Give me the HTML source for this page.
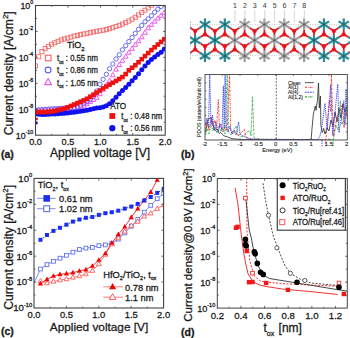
<!DOCTYPE html><html><head><meta charset="utf-8"><style>html,body{margin:0;padding:0;background:#fff;overflow:hidden;width:350px;height:338px}svg{display:block;font-family:"Liberation Sans",sans-serif}text{stroke:#1a1a1a;stroke-width:0.28px}</style></head><body>
<svg width="350" height="338" viewBox="0 0 350 338" font-family="Liberation Sans, sans-serif">
<rect width="350" height="338" fill="#fff"/>
<defs><clipPath id="ca"><rect x="35.5" y="5.5" width="129.7" height="129.7"/></clipPath>
<clipPath id="cc"><rect x="34" y="178.4" width="129.6" height="129.6"/></clipPath>
<clipPath id="cd"><rect x="217.3" y="178.5" width="130.0" height="129.60000000000002"/></clipPath>
<clipPath id="cb"><rect x="205" y="74.5" width="142.3" height="65.5"/></clipPath>
<clipPath id="cs"><rect x="190" y="14" width="160" height="48"/></clipPath></defs>
<g clip-path="url(#ca)">
<rect x="33.45" y="63.95" width="4.1" height="4.1" fill="none" stroke="#f46666" stroke-width="0.85"/>
<rect x="36.67" y="54.7" width="4.1" height="4.1" fill="none" stroke="#f46666" stroke-width="0.85"/>
<rect x="39.89" y="49.55" width="4.1" height="4.1" fill="none" stroke="#f46666" stroke-width="0.85"/>
<rect x="43.11" y="46.59" width="4.1" height="4.1" fill="none" stroke="#f46666" stroke-width="0.85"/>
<rect x="46.33" y="44.38" width="4.1" height="4.1" fill="none" stroke="#f46666" stroke-width="0.85"/>
<rect x="49.55" y="42.29" width="4.1" height="4.1" fill="none" stroke="#f46666" stroke-width="0.85"/>
<rect x="52.77" y="40.75" width="4.1" height="4.1" fill="none" stroke="#f46666" stroke-width="0.85"/>
<rect x="55.99" y="39.29" width="4.1" height="4.1" fill="none" stroke="#f46666" stroke-width="0.85"/>
<rect x="59.21" y="37.88" width="4.1" height="4.1" fill="none" stroke="#f46666" stroke-width="0.85"/>
<rect x="62.43" y="36.88" width="4.1" height="4.1" fill="none" stroke="#f46666" stroke-width="0.85"/>
<rect x="65.65" y="36.03" width="4.1" height="4.1" fill="none" stroke="#f46666" stroke-width="0.85"/>
<rect x="68.87" y="35" width="4.1" height="4.1" fill="none" stroke="#f46666" stroke-width="0.85"/>
<rect x="72.09" y="34.05" width="4.1" height="4.1" fill="none" stroke="#f46666" stroke-width="0.85"/>
<rect x="75.31" y="33.36" width="4.1" height="4.1" fill="none" stroke="#f46666" stroke-width="0.85"/>
<rect x="78.53" y="32.64" width="4.1" height="4.1" fill="none" stroke="#f46666" stroke-width="0.85"/>
<rect x="81.75" y="31.93" width="4.1" height="4.1" fill="none" stroke="#f46666" stroke-width="0.85"/>
<rect x="84.97" y="31.26" width="4.1" height="4.1" fill="none" stroke="#f46666" stroke-width="0.85"/>
<rect x="88.19" y="30.59" width="4.1" height="4.1" fill="none" stroke="#f46666" stroke-width="0.85"/>
<rect x="91.41" y="29.92" width="4.1" height="4.1" fill="none" stroke="#f46666" stroke-width="0.85"/>
<rect x="94.63" y="29.26" width="4.1" height="4.1" fill="none" stroke="#f46666" stroke-width="0.85"/>
<rect x="97.85" y="28.68" width="4.1" height="4.1" fill="none" stroke="#f46666" stroke-width="0.85"/>
<rect x="101.07" y="28.18" width="4.1" height="4.1" fill="none" stroke="#f46666" stroke-width="0.85"/>
<rect x="104.29" y="27.59" width="4.1" height="4.1" fill="none" stroke="#f46666" stroke-width="0.85"/>
<rect x="107.51" y="26.62" width="4.1" height="4.1" fill="none" stroke="#f46666" stroke-width="0.85"/>
<rect x="110.73" y="25.64" width="4.1" height="4.1" fill="none" stroke="#f46666" stroke-width="0.85"/>
<rect x="113.95" y="24.49" width="4.1" height="4.1" fill="none" stroke="#f46666" stroke-width="0.85"/>
<rect x="117.17" y="23.33" width="4.1" height="4.1" fill="none" stroke="#f46666" stroke-width="0.85"/>
<rect x="120.39" y="22" width="4.1" height="4.1" fill="none" stroke="#f46666" stroke-width="0.85"/>
<rect x="123.61" y="20.59" width="4.1" height="4.1" fill="none" stroke="#f46666" stroke-width="0.85"/>
<rect x="126.83" y="19" width="4.1" height="4.1" fill="none" stroke="#f46666" stroke-width="0.85"/>
<rect x="130.05" y="17.17" width="4.1" height="4.1" fill="none" stroke="#f46666" stroke-width="0.85"/>
<rect x="133.27" y="15.25" width="4.1" height="4.1" fill="none" stroke="#f46666" stroke-width="0.85"/>
<rect x="136.49" y="12.87" width="4.1" height="4.1" fill="none" stroke="#f46666" stroke-width="0.85"/>
<rect x="139.71" y="10.48" width="4.1" height="4.1" fill="none" stroke="#f46666" stroke-width="0.85"/>
<rect x="142.93" y="8.16" width="4.1" height="4.1" fill="none" stroke="#f46666" stroke-width="0.85"/>
<rect x="146.15" y="5.84" width="4.1" height="4.1" fill="none" stroke="#f46666" stroke-width="0.85"/>
<rect x="149.37" y="3.09" width="4.1" height="4.1" fill="none" stroke="#f46666" stroke-width="0.85"/>
<rect x="152.59" y="0.27" width="4.1" height="4.1" fill="none" stroke="#f46666" stroke-width="0.85"/>
<rect x="155.81" y="-0.05" width="4.1" height="4.1" fill="none" stroke="#f46666" stroke-width="0.85"/>
<rect x="159.03" y="-0.05" width="4.1" height="4.1" fill="none" stroke="#f46666" stroke-width="0.85"/>
<rect x="162.25" y="-0.05" width="4.1" height="4.1" fill="none" stroke="#f46666" stroke-width="0.85"/>
<polygon points="35.5,107.41 33.1,111.73 37.9,111.73" fill="none" stroke="#f05cf0" stroke-width="1.0"/>
<polygon points="38.72,107.39 36.32,111.71 41.12,111.71" fill="none" stroke="#f05cf0" stroke-width="1.0"/>
<polygon points="41.94,107.29 39.54,111.61 44.34,111.61" fill="none" stroke="#f05cf0" stroke-width="1.0"/>
<polygon points="45.16,107.19 42.76,111.51 47.56,111.51" fill="none" stroke="#f05cf0" stroke-width="1.0"/>
<polygon points="48.38,107.1 45.98,111.42 50.78,111.42" fill="none" stroke="#f05cf0" stroke-width="1.0"/>
<polygon points="51.6,107 49.2,111.32 54,111.32" fill="none" stroke="#f05cf0" stroke-width="1.0"/>
<polygon points="54.82,106.9 52.42,111.22 57.22,111.22" fill="none" stroke="#f05cf0" stroke-width="1.0"/>
<polygon points="58.04,106.75 55.64,111.07 60.44,111.07" fill="none" stroke="#f05cf0" stroke-width="1.0"/>
<polygon points="61.26,106.59 58.86,110.91 63.66,110.91" fill="none" stroke="#f05cf0" stroke-width="1.0"/>
<polygon points="64.48,106.43 62.08,110.75 66.88,110.75" fill="none" stroke="#f05cf0" stroke-width="1.0"/>
<polygon points="67.7,106.1 65.3,110.42 70.1,110.42" fill="none" stroke="#f05cf0" stroke-width="1.0"/>
<polygon points="70.92,105.72 68.52,110.04 73.32,110.04" fill="none" stroke="#f05cf0" stroke-width="1.0"/>
<polygon points="74.14,105.35 71.74,109.67 76.54,109.67" fill="none" stroke="#f05cf0" stroke-width="1.0"/>
<polygon points="77.36,104.77 74.96,109.09 79.76,109.09" fill="none" stroke="#f05cf0" stroke-width="1.0"/>
<polygon points="80.58,104.05 78.18,108.37 82.98,108.37" fill="none" stroke="#f05cf0" stroke-width="1.0"/>
<polygon points="83.8,102.96 81.4,107.28 86.2,107.28" fill="none" stroke="#f05cf0" stroke-width="1.0"/>
<polygon points="87.02,101.34 84.62,105.66 89.42,105.66" fill="none" stroke="#f05cf0" stroke-width="1.0"/>
<polygon points="90.24,99.13 87.84,103.45 92.64,103.45" fill="none" stroke="#f05cf0" stroke-width="1.0"/>
<polygon points="93.46,97.1 91.06,101.42 95.86,101.42" fill="none" stroke="#f05cf0" stroke-width="1.0"/>
<polygon points="96.68,95.01 94.28,99.33 99.08,99.33" fill="none" stroke="#f05cf0" stroke-width="1.0"/>
<polygon points="99.9,91.41 97.5,95.73 102.3,95.73" fill="none" stroke="#f05cf0" stroke-width="1.0"/>
<polygon points="103.12,86.93 100.72,91.25 105.52,91.25" fill="none" stroke="#f05cf0" stroke-width="1.0"/>
<polygon points="106.34,82.55 103.94,86.87 108.74,86.87" fill="none" stroke="#f05cf0" stroke-width="1.0"/>
<polygon points="109.56,77.93 107.16,82.25 111.96,82.25" fill="none" stroke="#f05cf0" stroke-width="1.0"/>
<polygon points="112.78,72.39 110.38,76.71 115.18,76.71" fill="none" stroke="#f05cf0" stroke-width="1.0"/>
<polygon points="116,66.85 113.6,71.17 118.4,71.17" fill="none" stroke="#f05cf0" stroke-width="1.0"/>
<polygon points="119.22,62.24 116.82,66.56 121.62,66.56" fill="none" stroke="#f05cf0" stroke-width="1.0"/>
<polygon points="122.44,58.02 120.04,62.34 124.84,62.34" fill="none" stroke="#f05cf0" stroke-width="1.0"/>
<polygon points="125.66,53.86 123.26,58.18 128.06,58.18" fill="none" stroke="#f05cf0" stroke-width="1.0"/>
<polygon points="128.88,49.84 126.48,54.16 131.28,54.16" fill="none" stroke="#f05cf0" stroke-width="1.0"/>
<polygon points="132.1,45.99 129.7,50.31 134.5,50.31" fill="none" stroke="#f05cf0" stroke-width="1.0"/>
<polygon points="135.32,42 132.92,46.32 137.72,46.32" fill="none" stroke="#f05cf0" stroke-width="1.0"/>
<polygon points="138.54,38.41 136.14,42.73 140.94,42.73" fill="none" stroke="#f05cf0" stroke-width="1.0"/>
<polygon points="141.76,34.49 139.36,38.81 144.16,38.81" fill="none" stroke="#f05cf0" stroke-width="1.0"/>
<polygon points="144.98,29.96 142.58,34.28 147.38,34.28" fill="none" stroke="#f05cf0" stroke-width="1.0"/>
<polygon points="148.2,25.4 145.8,29.72 150.6,29.72" fill="none" stroke="#f05cf0" stroke-width="1.0"/>
<polygon points="151.42,22.09 149.02,26.41 153.82,26.41" fill="none" stroke="#f05cf0" stroke-width="1.0"/>
<polygon points="154.64,18.87 152.24,23.19 157.04,23.19" fill="none" stroke="#f05cf0" stroke-width="1.0"/>
<polygon points="157.86,15.75 155.46,20.07 160.26,20.07" fill="none" stroke="#f05cf0" stroke-width="1.0"/>
<polygon points="161.08,12.94 158.68,17.26 163.48,17.26" fill="none" stroke="#f05cf0" stroke-width="1.0"/>
<polygon points="164.3,10.05 161.9,14.37 166.7,14.37" fill="none" stroke="#f05cf0" stroke-width="1.0"/>
<circle cx="35.5" cy="110.1" r="2.15" fill="none" stroke="#6262f0" stroke-width="0.95"/>
<circle cx="38.72" cy="110.02" r="2.15" fill="none" stroke="#6262f0" stroke-width="0.95"/>
<circle cx="41.94" cy="109.61" r="2.15" fill="none" stroke="#6262f0" stroke-width="0.95"/>
<circle cx="45.16" cy="109.26" r="2.15" fill="none" stroke="#6262f0" stroke-width="0.95"/>
<circle cx="48.38" cy="109.07" r="2.15" fill="none" stroke="#6262f0" stroke-width="0.95"/>
<circle cx="51.6" cy="108.88" r="2.15" fill="none" stroke="#6262f0" stroke-width="0.95"/>
<circle cx="54.82" cy="108.69" r="2.15" fill="none" stroke="#6262f0" stroke-width="0.95"/>
<circle cx="58.04" cy="108.47" r="2.15" fill="none" stroke="#6262f0" stroke-width="0.95"/>
<circle cx="61.26" cy="108.25" r="2.15" fill="none" stroke="#6262f0" stroke-width="0.95"/>
<circle cx="64.48" cy="108.04" r="2.15" fill="none" stroke="#6262f0" stroke-width="0.95"/>
<circle cx="67.7" cy="107.9" r="2.15" fill="none" stroke="#6262f0" stroke-width="0.95"/>
<circle cx="70.92" cy="107.79" r="2.15" fill="none" stroke="#6262f0" stroke-width="0.95"/>
<circle cx="74.14" cy="107.67" r="2.15" fill="none" stroke="#6262f0" stroke-width="0.95"/>
<circle cx="77.36" cy="106.9" r="2.15" fill="none" stroke="#6262f0" stroke-width="0.95"/>
<circle cx="80.58" cy="105.06" r="2.15" fill="none" stroke="#6262f0" stroke-width="0.95"/>
<circle cx="83.8" cy="103.46" r="2.15" fill="none" stroke="#6262f0" stroke-width="0.95"/>
<circle cx="87.02" cy="101.85" r="2.15" fill="none" stroke="#6262f0" stroke-width="0.95"/>
<circle cx="90.24" cy="99.71" r="2.15" fill="none" stroke="#6262f0" stroke-width="0.95"/>
<circle cx="93.46" cy="96.45" r="2.15" fill="none" stroke="#6262f0" stroke-width="0.95"/>
<circle cx="96.68" cy="91.09" r="2.15" fill="none" stroke="#6262f0" stroke-width="0.95"/>
<circle cx="99.9" cy="84.2" r="2.15" fill="none" stroke="#6262f0" stroke-width="0.95"/>
<circle cx="103.12" cy="79.37" r="2.15" fill="none" stroke="#6262f0" stroke-width="0.95"/>
<circle cx="106.34" cy="74.29" r="2.15" fill="none" stroke="#6262f0" stroke-width="0.95"/>
<circle cx="109.56" cy="68.81" r="2.15" fill="none" stroke="#6262f0" stroke-width="0.95"/>
<circle cx="112.78" cy="63.98" r="2.15" fill="none" stroke="#6262f0" stroke-width="0.95"/>
<circle cx="116" cy="59.01" r="2.15" fill="none" stroke="#6262f0" stroke-width="0.95"/>
<circle cx="119.22" cy="54.82" r="2.15" fill="none" stroke="#6262f0" stroke-width="0.95"/>
<circle cx="122.44" cy="49.82" r="2.15" fill="none" stroke="#6262f0" stroke-width="0.95"/>
<circle cx="125.66" cy="45.68" r="2.15" fill="none" stroke="#6262f0" stroke-width="0.95"/>
<circle cx="128.88" cy="41.54" r="2.15" fill="none" stroke="#6262f0" stroke-width="0.95"/>
<circle cx="132.1" cy="37.5" r="2.15" fill="none" stroke="#6262f0" stroke-width="0.95"/>
<circle cx="135.32" cy="33.38" r="2.15" fill="none" stroke="#6262f0" stroke-width="0.95"/>
<circle cx="138.54" cy="29.27" r="2.15" fill="none" stroke="#6262f0" stroke-width="0.95"/>
<circle cx="141.76" cy="25.44" r="2.15" fill="none" stroke="#6262f0" stroke-width="0.95"/>
<circle cx="144.98" cy="21.79" r="2.15" fill="none" stroke="#6262f0" stroke-width="0.95"/>
<circle cx="148.2" cy="18.88" r="2.15" fill="none" stroke="#6262f0" stroke-width="0.95"/>
<circle cx="151.42" cy="15.78" r="2.15" fill="none" stroke="#6262f0" stroke-width="0.95"/>
<circle cx="154.64" cy="12.17" r="2.15" fill="none" stroke="#6262f0" stroke-width="0.95"/>
<circle cx="157.86" cy="9.2" r="2.15" fill="none" stroke="#6262f0" stroke-width="0.95"/>
<circle cx="161.08" cy="6.47" r="2.15" fill="none" stroke="#6262f0" stroke-width="0.95"/>
<circle cx="164.3" cy="4.15" r="2.15" fill="none" stroke="#6262f0" stroke-width="0.95"/>
<circle cx="35.5" cy="114" r="2.5" fill="#1010ee" stroke="none" stroke-width="0"/>
<circle cx="38.72" cy="114.16" r="2.5" fill="#1010ee" stroke="none" stroke-width="0"/>
<circle cx="41.94" cy="114.47" r="2.5" fill="#1010ee" stroke="none" stroke-width="0"/>
<circle cx="45.16" cy="114.38" r="2.5" fill="#1010ee" stroke="none" stroke-width="0"/>
<circle cx="48.38" cy="114.25" r="2.5" fill="#1010ee" stroke="none" stroke-width="0"/>
<circle cx="51.6" cy="114.12" r="2.5" fill="#1010ee" stroke="none" stroke-width="0"/>
<circle cx="54.82" cy="113.99" r="2.5" fill="#1010ee" stroke="none" stroke-width="0"/>
<circle cx="58.04" cy="113.74" r="2.5" fill="#1010ee" stroke="none" stroke-width="0"/>
<circle cx="61.26" cy="113.49" r="2.5" fill="#1010ee" stroke="none" stroke-width="0"/>
<circle cx="64.48" cy="113.24" r="2.5" fill="#1010ee" stroke="none" stroke-width="0"/>
<circle cx="67.7" cy="112.89" r="2.5" fill="#1010ee" stroke="none" stroke-width="0"/>
<circle cx="70.92" cy="112.52" r="2.5" fill="#1010ee" stroke="none" stroke-width="0"/>
<circle cx="74.14" cy="112.15" r="2.5" fill="#1010ee" stroke="none" stroke-width="0"/>
<circle cx="77.36" cy="111.72" r="2.5" fill="#1010ee" stroke="none" stroke-width="0"/>
<circle cx="80.58" cy="111.25" r="2.5" fill="#1010ee" stroke="none" stroke-width="0"/>
<circle cx="83.8" cy="110.79" r="2.5" fill="#1010ee" stroke="none" stroke-width="0"/>
<circle cx="87.02" cy="110.2" r="2.5" fill="#1010ee" stroke="none" stroke-width="0"/>
<circle cx="90.24" cy="109.42" r="2.5" fill="#1010ee" stroke="none" stroke-width="0"/>
<circle cx="93.46" cy="108.64" r="2.5" fill="#1010ee" stroke="none" stroke-width="0"/>
<circle cx="96.68" cy="107.95" r="2.5" fill="#1010ee" stroke="none" stroke-width="0"/>
<circle cx="99.9" cy="107.68" r="2.5" fill="#1010ee" stroke="none" stroke-width="0"/>
<circle cx="103.12" cy="107.09" r="2.5" fill="#1010ee" stroke="none" stroke-width="0"/>
<circle cx="106.34" cy="105.68" r="2.5" fill="#1010ee" stroke="none" stroke-width="0"/>
<circle cx="109.56" cy="103.67" r="2.5" fill="#1010ee" stroke="none" stroke-width="0"/>
<circle cx="112.78" cy="100.86" r="2.5" fill="#1010ee" stroke="none" stroke-width="0"/>
<circle cx="116" cy="97.19" r="2.5" fill="#1010ee" stroke="none" stroke-width="0"/>
<circle cx="119.22" cy="93.77" r="2.5" fill="#1010ee" stroke="none" stroke-width="0"/>
<circle cx="122.44" cy="90.54" r="2.5" fill="#1010ee" stroke="none" stroke-width="0"/>
<circle cx="125.66" cy="87.47" r="2.5" fill="#1010ee" stroke="none" stroke-width="0"/>
<circle cx="128.88" cy="84.13" r="2.5" fill="#1010ee" stroke="none" stroke-width="0"/>
<circle cx="132.1" cy="80.87" r="2.5" fill="#1010ee" stroke="none" stroke-width="0"/>
<circle cx="135.32" cy="77.54" r="2.5" fill="#1010ee" stroke="none" stroke-width="0"/>
<circle cx="138.54" cy="73.72" r="2.5" fill="#1010ee" stroke="none" stroke-width="0"/>
<circle cx="141.76" cy="69.83" r="2.5" fill="#1010ee" stroke="none" stroke-width="0"/>
<circle cx="144.98" cy="66.08" r="2.5" fill="#1010ee" stroke="none" stroke-width="0"/>
<circle cx="148.2" cy="62.49" r="2.5" fill="#1010ee" stroke="none" stroke-width="0"/>
<circle cx="151.42" cy="59.6" r="2.5" fill="#1010ee" stroke="none" stroke-width="0"/>
<circle cx="154.64" cy="57.06" r="2.5" fill="#1010ee" stroke="none" stroke-width="0"/>
<circle cx="157.86" cy="54.41" r="2.5" fill="#1010ee" stroke="none" stroke-width="0"/>
<circle cx="161.08" cy="52.23" r="2.5" fill="#1010ee" stroke="none" stroke-width="0"/>
<circle cx="164.3" cy="49.03" r="2.5" fill="#1010ee" stroke="none" stroke-width="0"/>
<rect x="33.2" y="109.7" width="4.6" height="4.6" fill="#ee1111" stroke="none" stroke-width="0"/>
<rect x="36.42" y="109.7" width="4.6" height="4.6" fill="#ee1111" stroke="none" stroke-width="0"/>
<rect x="39.64" y="109.7" width="4.6" height="4.6" fill="#ee1111" stroke="none" stroke-width="0"/>
<rect x="42.86" y="109.7" width="4.6" height="4.6" fill="#ee1111" stroke="none" stroke-width="0"/>
<rect x="46.08" y="109.52" width="4.6" height="4.6" fill="#ee1111" stroke="none" stroke-width="0"/>
<rect x="49.3" y="109.1" width="4.6" height="4.6" fill="#ee1111" stroke="none" stroke-width="0"/>
<rect x="52.52" y="108.67" width="4.6" height="4.6" fill="#ee1111" stroke="none" stroke-width="0"/>
<rect x="55.74" y="107.89" width="4.6" height="4.6" fill="#ee1111" stroke="none" stroke-width="0"/>
<rect x="58.96" y="107.11" width="4.6" height="4.6" fill="#ee1111" stroke="none" stroke-width="0"/>
<rect x="62.18" y="106.33" width="4.6" height="4.6" fill="#ee1111" stroke="none" stroke-width="0"/>
<rect x="65.4" y="105.03" width="4.6" height="4.6" fill="#ee1111" stroke="none" stroke-width="0"/>
<rect x="68.62" y="103.64" width="4.6" height="4.6" fill="#ee1111" stroke="none" stroke-width="0"/>
<rect x="71.84" y="102.25" width="4.6" height="4.6" fill="#ee1111" stroke="none" stroke-width="0"/>
<rect x="75.06" y="100.85" width="4.6" height="4.6" fill="#ee1111" stroke="none" stroke-width="0"/>
<rect x="78.28" y="99.46" width="4.6" height="4.6" fill="#ee1111" stroke="none" stroke-width="0"/>
<rect x="81.5" y="98.07" width="4.6" height="4.6" fill="#ee1111" stroke="none" stroke-width="0"/>
<rect x="84.72" y="96.43" width="4.6" height="4.6" fill="#ee1111" stroke="none" stroke-width="0"/>
<rect x="87.94" y="94.4" width="4.6" height="4.6" fill="#ee1111" stroke="none" stroke-width="0"/>
<rect x="91.16" y="92.37" width="4.6" height="4.6" fill="#ee1111" stroke="none" stroke-width="0"/>
<rect x="94.38" y="90.31" width="4.6" height="4.6" fill="#ee1111" stroke="none" stroke-width="0"/>
<rect x="97.6" y="88.17" width="4.6" height="4.6" fill="#ee1111" stroke="none" stroke-width="0"/>
<rect x="100.82" y="86.11" width="4.6" height="4.6" fill="#ee1111" stroke="none" stroke-width="0"/>
<rect x="104.04" y="84.23" width="4.6" height="4.6" fill="#ee1111" stroke="none" stroke-width="0"/>
<rect x="107.26" y="82.35" width="4.6" height="4.6" fill="#ee1111" stroke="none" stroke-width="0"/>
<rect x="110.48" y="80.47" width="4.6" height="4.6" fill="#ee1111" stroke="none" stroke-width="0"/>
<rect x="113.7" y="78.59" width="4.6" height="4.6" fill="#ee1111" stroke="none" stroke-width="0"/>
<rect x="116.92" y="76.67" width="4.6" height="4.6" fill="#ee1111" stroke="none" stroke-width="0"/>
<rect x="120.14" y="74.74" width="4.6" height="4.6" fill="#ee1111" stroke="none" stroke-width="0"/>
<rect x="123.36" y="71.77" width="4.6" height="4.6" fill="#ee1111" stroke="none" stroke-width="0"/>
<rect x="126.58" y="68.04" width="4.6" height="4.6" fill="#ee1111" stroke="none" stroke-width="0"/>
<rect x="129.8" y="65.45" width="4.6" height="4.6" fill="#ee1111" stroke="none" stroke-width="0"/>
<rect x="133.02" y="62.9" width="4.6" height="4.6" fill="#ee1111" stroke="none" stroke-width="0"/>
<rect x="136.24" y="59.96" width="4.6" height="4.6" fill="#ee1111" stroke="none" stroke-width="0"/>
<rect x="139.46" y="56.87" width="4.6" height="4.6" fill="#ee1111" stroke="none" stroke-width="0"/>
<rect x="142.68" y="53.8" width="4.6" height="4.6" fill="#ee1111" stroke="none" stroke-width="0"/>
<rect x="145.9" y="50.76" width="4.6" height="4.6" fill="#ee1111" stroke="none" stroke-width="0"/>
<rect x="149.12" y="47.78" width="4.6" height="4.6" fill="#ee1111" stroke="none" stroke-width="0"/>
<rect x="152.34" y="45" width="4.6" height="4.6" fill="#ee1111" stroke="none" stroke-width="0"/>
<rect x="155.56" y="42.22" width="4.6" height="4.6" fill="#ee1111" stroke="none" stroke-width="0"/>
<rect x="158.78" y="39.57" width="4.6" height="4.6" fill="#ee1111" stroke="none" stroke-width="0"/>
<rect x="162" y="36.92" width="4.6" height="4.6" fill="#ee1111" stroke="none" stroke-width="0"/>
<rect x="35.25" y="117.75" width="2.5" height="2.5" fill="#ee1111" stroke="none" stroke-width="0"/>
<circle cx="36.5" cy="123" r="1.4" fill="#1010ee" stroke="none" stroke-width="0"/>
</g>
<rect x="35.5" y="5.5" width="129.7" height="129.7" fill="none" stroke="#444" stroke-width="1.1"/>
<path d="M51.71 135.2v-1.3M51.71 5.5v1.3" stroke="#444" stroke-width="0.8"/>
<path d="M67.92 135.2v-2.2M67.92 5.5v2.2" stroke="#444" stroke-width="0.8"/>
<path d="M84.14 135.2v-1.3M84.14 5.5v1.3" stroke="#444" stroke-width="0.8"/>
<path d="M100.35 135.2v-2.2M100.35 5.5v2.2" stroke="#444" stroke-width="0.8"/>
<path d="M116.56 135.2v-1.3M116.56 5.5v1.3" stroke="#444" stroke-width="0.8"/>
<path d="M132.77 135.2v-2.2M132.77 5.5v2.2" stroke="#444" stroke-width="0.8"/>
<path d="M148.99 135.2v-1.3M148.99 5.5v1.3" stroke="#444" stroke-width="0.8"/>
<path d="M35.5 18.47h1.5M165.2 18.47h-1.5" stroke="#444" stroke-width="0.8"/>
<path d="M35.5 31.44h2.2M165.2 31.44h-2.2" stroke="#444" stroke-width="0.8"/>
<path d="M35.5 44.41h1.5M165.2 44.41h-1.5" stroke="#444" stroke-width="0.8"/>
<path d="M35.5 57.38h2.2M165.2 57.38h-2.2" stroke="#444" stroke-width="0.8"/>
<path d="M35.5 70.35h1.5M165.2 70.35h-1.5" stroke="#444" stroke-width="0.8"/>
<path d="M35.5 83.32h2.2M165.2 83.32h-2.2" stroke="#444" stroke-width="0.8"/>
<path d="M35.5 96.29h1.5M165.2 96.29h-1.5" stroke="#444" stroke-width="0.8"/>
<path d="M35.5 109.26h2.2M165.2 109.26h-2.2" stroke="#444" stroke-width="0.8"/>
<path d="M35.5 122.23h1.5M165.2 122.23h-1.5" stroke="#444" stroke-width="0.8"/>
<text x="33.2" y="8.8" font-size="8.8" text-anchor="end" fill="#1a1a1a">10<tspan font-size="5.28" dy="-4.4">0</tspan></text>
<text x="33.2" y="34.74" font-size="8.8" text-anchor="end" fill="#1a1a1a">10<tspan font-size="5.28" dy="-4.4">-2</tspan></text>
<text x="33.2" y="60.68" font-size="8.8" text-anchor="end" fill="#1a1a1a">10<tspan font-size="5.28" dy="-4.4">-4</tspan></text>
<text x="33.2" y="86.62" font-size="8.8" text-anchor="end" fill="#1a1a1a">10<tspan font-size="5.28" dy="-4.4">-6</tspan></text>
<text x="33.2" y="112.56" font-size="8.8" text-anchor="end" fill="#1a1a1a">10<tspan font-size="5.28" dy="-4.4">-8</tspan></text>
<text x="33.2" y="138.5" font-size="8.8" text-anchor="end" fill="#1a1a1a">10<tspan font-size="5.28" dy="-4.4">-10</tspan></text>
<text x="35.5" y="145.3" font-size="9.1" text-anchor="middle" font-weight="normal" fill="#1a1a1a" >0.0</text>
<text x="67.92" y="145.3" font-size="9.1" text-anchor="middle" font-weight="normal" fill="#1a1a1a" >0.5</text>
<text x="100.35" y="145.3" font-size="9.1" text-anchor="middle" font-weight="normal" fill="#1a1a1a" >1.0</text>
<text x="132.77" y="145.3" font-size="9.1" text-anchor="middle" font-weight="normal" fill="#1a1a1a" >1.5</text>
<text x="165.2" y="145.3" font-size="9.1" text-anchor="middle" font-weight="normal" fill="#1a1a1a" >2.0</text>
<text x="100" y="156.8" font-size="12" text-anchor="middle" font-weight="normal" fill="#1a1a1a" >Applied voltage [V]</text>
<text transform="translate(12.6 73.3) rotate(-90)" font-size="12.1" text-anchor="middle" fill="#1a1a1a">Current density [A/cm<tspan font-size="8" dy="-5">2</tspan><tspan dy="5">]</tspan></text>
<text x="1" y="157.5" font-size="10.5" text-anchor="start" font-weight="bold" fill="#1a1a1a" >(a)</text>
<text x="67" y="48.3" font-size="9" text-anchor="start" font-weight="normal" fill="#1a1a1a" >TiO<tspan font-size="6" dy="2.5">2</tspan></text>
<rect x="45.4" y="55.2" width="5.6" height="5.6" fill="none" stroke="#f46666" stroke-width="1.15"/>
<circle cx="48.1" cy="70" r="2.9" fill="none" stroke="#6262f0" stroke-width="1.15"/>
<polygon points="48.1,78.53 44.7,84.65 51.5,84.65" fill="none" stroke="#f05cf0" stroke-width="1.15"/>
<text x="57" y="61.2" font-size="8.9" fill="#1a1a1a" textLength="41" lengthAdjust="spacingAndGlyphs">t<tspan font-size="5" dy="2.8">ox</tspan><tspan dy="-2.8"> : 0.55 nm</tspan></text>
<text x="57" y="73.3" font-size="8.9" fill="#1a1a1a" textLength="41" lengthAdjust="spacingAndGlyphs">t<tspan font-size="5" dy="2.8">ox</tspan><tspan dy="-2.8"> : 0.86 nm</tspan></text>
<text x="57" y="85.6" font-size="8.9" fill="#1a1a1a" textLength="41" lengthAdjust="spacingAndGlyphs">t<tspan font-size="5" dy="2.8">ox</tspan><tspan dy="-2.8"> : 1.05 nm</tspan></text>
<text x="110.2" y="109.3" font-size="9" text-anchor="start" font-weight="normal" fill="#1a1a1a" textLength="16" lengthAdjust="spacingAndGlyphs">ATO</text>
<rect x="109.4" y="113.1" width="5.8" height="5.8" fill="#ee1111" stroke="none" stroke-width="0"/>
<circle cx="112.3" cy="128.2" r="3.1" fill="#1010ee" stroke="none" stroke-width="0"/>
<text x="121.3" y="119" font-size="8.9" fill="#1a1a1a" textLength="41" lengthAdjust="spacingAndGlyphs">t<tspan font-size="5" dy="2.8">ox</tspan><tspan dy="-2.8"> : 0.48 nm</tspan></text>
<text x="121.3" y="131" font-size="8.9" fill="#1a1a1a" textLength="41" lengthAdjust="spacingAndGlyphs">t<tspan font-size="5" dy="2.8">ox</tspan><tspan dy="-2.8"> : 0.56 nm</tspan></text>
<g clip-path="url(#cc)">
<path d="M34 283 L40.48 269 L46.97 264.6 L53.45 261.3 L59.94 258.2 L66.43 255.3 L72.91 252.2 L79.4 249.5 L85.88 248.1 L92.37 247.4 L98.85 245.6 L105.34 244.9 L111.82 243.2 L118.31 239.1 L124.79 232.9 L131.28 226.2 L137.76 219.4 L144.25 212.2 L150.73 205.3 L157.22 198.7 L163.7 193.5" fill="none" stroke="#6070f0" stroke-width="0.8"/>
<path d="M40.48 281 L46.97 283 L53.45 281.4 L59.94 280 L66.43 279 L72.91 277.4 L79.4 276 L85.88 274 L92.37 270.6 L98.85 264 L105.34 254.5 L111.82 244.1 L118.31 238 L124.79 231.4 L131.28 225.6 L137.76 221.5 L144.25 216.3 L150.73 213.2 L157.22 208.6 L163.7 204.9" fill="none" stroke="#ff5a5a" stroke-width="0.8"/>
<path d="M40.48 283.6 L46.97 279.4 L53.45 276 L59.94 274.4 L66.43 273.6 L72.91 272.6 L79.4 271 L85.88 269.6 L92.37 266 L98.85 260 L105.34 253.5 L111.82 243 L118.31 234.3 L124.79 226.7 L131.28 217.3 L137.76 208.6 L144.25 200.4 L150.73 192.1 L157.22 180 L163.7 168" fill="none" stroke="#f00000" stroke-width="0.8"/>
<path d="M40.48 239.8 L46.97 235 L53.45 230.9 L59.94 227.8 L66.43 224.7 L72.91 221.6 L79.4 219.5 L85.88 217.8 L92.37 217 L98.85 214.9 L105.34 213.2 L111.82 212.2 L118.31 210.7 L124.79 208.6 L131.28 206.6 L137.76 203.9 L144.25 200.4 L150.73 197 L157.22 192.9 L163.7 188.8" fill="none" stroke="#1a2ef0" stroke-width="0.9" stroke-dasharray="1.5 1.5"/>
<rect x="38.59" y="267.1" width="3.8" height="3.8" fill="#fff" stroke="#6070f0" stroke-width="0.9"/>
<rect x="45.07" y="262.7" width="3.8" height="3.8" fill="#fff" stroke="#6070f0" stroke-width="0.9"/>
<rect x="51.55" y="259.4" width="3.8" height="3.8" fill="#fff" stroke="#6070f0" stroke-width="0.9"/>
<rect x="58.04" y="256.3" width="3.8" height="3.8" fill="#fff" stroke="#6070f0" stroke-width="0.9"/>
<rect x="64.53" y="253.4" width="3.8" height="3.8" fill="#fff" stroke="#6070f0" stroke-width="0.9"/>
<rect x="71.01" y="250.3" width="3.8" height="3.8" fill="#fff" stroke="#6070f0" stroke-width="0.9"/>
<rect x="77.5" y="247.6" width="3.8" height="3.8" fill="#fff" stroke="#6070f0" stroke-width="0.9"/>
<rect x="83.98" y="246.2" width="3.8" height="3.8" fill="#fff" stroke="#6070f0" stroke-width="0.9"/>
<rect x="90.47" y="245.5" width="3.8" height="3.8" fill="#fff" stroke="#6070f0" stroke-width="0.9"/>
<rect x="96.95" y="243.7" width="3.8" height="3.8" fill="#fff" stroke="#6070f0" stroke-width="0.9"/>
<rect x="103.44" y="243" width="3.8" height="3.8" fill="#fff" stroke="#6070f0" stroke-width="0.9"/>
<rect x="109.92" y="241.3" width="3.8" height="3.8" fill="#fff" stroke="#6070f0" stroke-width="0.9"/>
<rect x="116.41" y="237.2" width="3.8" height="3.8" fill="#fff" stroke="#6070f0" stroke-width="0.9"/>
<rect x="122.89" y="231" width="3.8" height="3.8" fill="#fff" stroke="#6070f0" stroke-width="0.9"/>
<rect x="129.38" y="224.3" width="3.8" height="3.8" fill="#fff" stroke="#6070f0" stroke-width="0.9"/>
<rect x="135.86" y="217.5" width="3.8" height="3.8" fill="#fff" stroke="#6070f0" stroke-width="0.9"/>
<rect x="142.34" y="210.3" width="3.8" height="3.8" fill="#fff" stroke="#6070f0" stroke-width="0.9"/>
<rect x="148.83" y="203.4" width="3.8" height="3.8" fill="#fff" stroke="#6070f0" stroke-width="0.9"/>
<rect x="155.31" y="196.8" width="3.8" height="3.8" fill="#fff" stroke="#6070f0" stroke-width="0.9"/>
<rect x="161.8" y="191.6" width="3.8" height="3.8" fill="#fff" stroke="#6070f0" stroke-width="0.9"/>
<polygon points="40.48,278.41 38.09,282.73 42.88,282.73" fill="#fff" stroke="#ff5a5a" stroke-width="0.9"/>
<polygon points="46.97,280.41 44.57,284.73 49.37,284.73" fill="#fff" stroke="#ff5a5a" stroke-width="0.9"/>
<polygon points="53.45,278.81 51.05,283.13 55.85,283.13" fill="#fff" stroke="#ff5a5a" stroke-width="0.9"/>
<polygon points="59.94,277.41 57.54,281.73 62.34,281.73" fill="#fff" stroke="#ff5a5a" stroke-width="0.9"/>
<polygon points="66.43,276.41 64.03,280.73 68.83,280.73" fill="#fff" stroke="#ff5a5a" stroke-width="0.9"/>
<polygon points="72.91,274.81 70.51,279.13 75.31,279.13" fill="#fff" stroke="#ff5a5a" stroke-width="0.9"/>
<polygon points="79.4,273.41 77,277.73 81.8,277.73" fill="#fff" stroke="#ff5a5a" stroke-width="0.9"/>
<polygon points="85.88,271.41 83.48,275.73 88.28,275.73" fill="#fff" stroke="#ff5a5a" stroke-width="0.9"/>
<polygon points="92.37,268.01 89.97,272.33 94.77,272.33" fill="#fff" stroke="#ff5a5a" stroke-width="0.9"/>
<polygon points="98.85,261.41 96.45,265.73 101.25,265.73" fill="#fff" stroke="#ff5a5a" stroke-width="0.9"/>
<polygon points="105.34,251.91 102.94,256.23 107.74,256.23" fill="#fff" stroke="#ff5a5a" stroke-width="0.9"/>
<polygon points="111.82,241.51 109.42,245.83 114.22,245.83" fill="#fff" stroke="#ff5a5a" stroke-width="0.9"/>
<polygon points="118.31,235.41 115.91,239.73 120.71,239.73" fill="#fff" stroke="#ff5a5a" stroke-width="0.9"/>
<polygon points="124.79,228.81 122.39,233.13 127.19,233.13" fill="#fff" stroke="#ff5a5a" stroke-width="0.9"/>
<polygon points="131.28,223.01 128.88,227.33 133.68,227.33" fill="#fff" stroke="#ff5a5a" stroke-width="0.9"/>
<polygon points="137.76,218.91 135.36,223.23 140.16,223.23" fill="#fff" stroke="#ff5a5a" stroke-width="0.9"/>
<polygon points="144.25,213.71 141.84,218.03 146.65,218.03" fill="#fff" stroke="#ff5a5a" stroke-width="0.9"/>
<polygon points="150.73,210.61 148.33,214.93 153.13,214.93" fill="#fff" stroke="#ff5a5a" stroke-width="0.9"/>
<polygon points="157.22,206.01 154.81,210.33 159.62,210.33" fill="#fff" stroke="#ff5a5a" stroke-width="0.9"/>
<polygon points="163.7,202.31 161.3,206.63 166.1,206.63" fill="#fff" stroke="#ff5a5a" stroke-width="0.9"/>
<polygon points="40.48,280.79 37.88,285.47 43.09,285.47" fill="#f00000" stroke="none" stroke-width="0"/>
<polygon points="46.97,276.59 44.37,281.27 49.57,281.27" fill="#f00000" stroke="none" stroke-width="0"/>
<polygon points="53.45,273.19 50.85,277.87 56.05,277.87" fill="#f00000" stroke="none" stroke-width="0"/>
<polygon points="59.94,271.59 57.34,276.27 62.54,276.27" fill="#f00000" stroke="none" stroke-width="0"/>
<polygon points="66.43,270.79 63.83,275.47 69.03,275.47" fill="#f00000" stroke="none" stroke-width="0"/>
<polygon points="72.91,269.79 70.31,274.47 75.51,274.47" fill="#f00000" stroke="none" stroke-width="0"/>
<polygon points="79.4,268.19 76.8,272.87 82,272.87" fill="#f00000" stroke="none" stroke-width="0"/>
<polygon points="85.88,266.79 83.28,271.47 88.48,271.47" fill="#f00000" stroke="none" stroke-width="0"/>
<polygon points="92.37,263.19 89.77,267.87 94.97,267.87" fill="#f00000" stroke="none" stroke-width="0"/>
<polygon points="98.85,257.19 96.25,261.87 101.45,261.87" fill="#f00000" stroke="none" stroke-width="0"/>
<polygon points="105.34,250.69 102.74,255.37 107.94,255.37" fill="#f00000" stroke="none" stroke-width="0"/>
<polygon points="111.82,240.19 109.22,244.87 114.42,244.87" fill="#f00000" stroke="none" stroke-width="0"/>
<polygon points="118.31,231.49 115.71,236.17 120.91,236.17" fill="#f00000" stroke="none" stroke-width="0"/>
<polygon points="124.79,223.89 122.19,228.57 127.39,228.57" fill="#f00000" stroke="none" stroke-width="0"/>
<polygon points="131.28,214.49 128.68,219.17 133.88,219.17" fill="#f00000" stroke="none" stroke-width="0"/>
<polygon points="137.76,205.79 135.16,210.47 140.36,210.47" fill="#f00000" stroke="none" stroke-width="0"/>
<polygon points="144.25,197.59 141.65,202.27 146.84,202.27" fill="#f00000" stroke="none" stroke-width="0"/>
<polygon points="150.73,189.29 148.13,193.97 153.33,193.97" fill="#f00000" stroke="none" stroke-width="0"/>
<polygon points="157.22,177.19 154.62,181.87 159.81,181.87" fill="#f00000" stroke="none" stroke-width="0"/>
<polygon points="163.7,165.19 161.1,169.87 166.3,169.87" fill="#f00000" stroke="none" stroke-width="0"/>
<rect x="38.48" y="237.8" width="4" height="4" fill="#1a2ef0" stroke="none" stroke-width="0"/>
<rect x="44.97" y="233" width="4" height="4" fill="#1a2ef0" stroke="none" stroke-width="0"/>
<rect x="51.45" y="228.9" width="4" height="4" fill="#1a2ef0" stroke="none" stroke-width="0"/>
<rect x="57.94" y="225.8" width="4" height="4" fill="#1a2ef0" stroke="none" stroke-width="0"/>
<rect x="64.43" y="222.7" width="4" height="4" fill="#1a2ef0" stroke="none" stroke-width="0"/>
<rect x="70.91" y="219.6" width="4" height="4" fill="#1a2ef0" stroke="none" stroke-width="0"/>
<rect x="77.4" y="217.5" width="4" height="4" fill="#1a2ef0" stroke="none" stroke-width="0"/>
<rect x="83.88" y="215.8" width="4" height="4" fill="#1a2ef0" stroke="none" stroke-width="0"/>
<rect x="90.37" y="215" width="4" height="4" fill="#1a2ef0" stroke="none" stroke-width="0"/>
<rect x="96.85" y="212.9" width="4" height="4" fill="#1a2ef0" stroke="none" stroke-width="0"/>
<rect x="103.34" y="211.2" width="4" height="4" fill="#1a2ef0" stroke="none" stroke-width="0"/>
<rect x="109.82" y="210.2" width="4" height="4" fill="#1a2ef0" stroke="none" stroke-width="0"/>
<rect x="116.31" y="208.7" width="4" height="4" fill="#1a2ef0" stroke="none" stroke-width="0"/>
<rect x="122.79" y="206.6" width="4" height="4" fill="#1a2ef0" stroke="none" stroke-width="0"/>
<rect x="129.28" y="204.6" width="4" height="4" fill="#1a2ef0" stroke="none" stroke-width="0"/>
<rect x="135.76" y="201.9" width="4" height="4" fill="#1a2ef0" stroke="none" stroke-width="0"/>
<rect x="142.25" y="198.4" width="4" height="4" fill="#1a2ef0" stroke="none" stroke-width="0"/>
<rect x="148.73" y="195" width="4" height="4" fill="#1a2ef0" stroke="none" stroke-width="0"/>
<rect x="155.22" y="190.9" width="4" height="4" fill="#1a2ef0" stroke="none" stroke-width="0"/>
<rect x="161.7" y="186.8" width="4" height="4" fill="#1a2ef0" stroke="none" stroke-width="0"/>
</g>
<rect x="34" y="178.4" width="129.6" height="129.6" fill="none" stroke="#444" stroke-width="1.1"/>
<path d="M50.2 308v-1.3M50.2 178.4v1.3" stroke="#444" stroke-width="0.8"/>
<path d="M66.4 308v-2.2M66.4 178.4v2.2" stroke="#444" stroke-width="0.8"/>
<path d="M82.6 308v-1.3M82.6 178.4v1.3" stroke="#444" stroke-width="0.8"/>
<path d="M98.8 308v-2.2M98.8 178.4v2.2" stroke="#444" stroke-width="0.8"/>
<path d="M115 308v-1.3M115 178.4v1.3" stroke="#444" stroke-width="0.8"/>
<path d="M131.2 308v-2.2M131.2 178.4v2.2" stroke="#444" stroke-width="0.8"/>
<path d="M147.4 308v-1.3M147.4 178.4v1.3" stroke="#444" stroke-width="0.8"/>
<path d="M34 191.36h1.5M163.6 191.36h-1.5" stroke="#444" stroke-width="0.8"/>
<path d="M34 204.32h2.2M163.6 204.32h-2.2" stroke="#444" stroke-width="0.8"/>
<path d="M34 217.28h1.5M163.6 217.28h-1.5" stroke="#444" stroke-width="0.8"/>
<path d="M34 230.24h2.2M163.6 230.24h-2.2" stroke="#444" stroke-width="0.8"/>
<path d="M34 243.2h1.5M163.6 243.2h-1.5" stroke="#444" stroke-width="0.8"/>
<path d="M34 256.16h2.2M163.6 256.16h-2.2" stroke="#444" stroke-width="0.8"/>
<path d="M34 269.12h1.5M163.6 269.12h-1.5" stroke="#444" stroke-width="0.8"/>
<path d="M34 282.08h2.2M163.6 282.08h-2.2" stroke="#444" stroke-width="0.8"/>
<path d="M34 295.04h1.5M163.6 295.04h-1.5" stroke="#444" stroke-width="0.8"/>
<text x="32.2" y="181.8" font-size="9.6" text-anchor="end" fill="#1a1a1a">10<tspan font-size="5.76" dy="-4.8">0</tspan></text>
<text x="32.2" y="207.72" font-size="9.6" text-anchor="end" fill="#1a1a1a">10<tspan font-size="5.76" dy="-4.8">-2</tspan></text>
<text x="32.2" y="233.64" font-size="9.6" text-anchor="end" fill="#1a1a1a">10<tspan font-size="5.76" dy="-4.8">-4</tspan></text>
<text x="32.2" y="259.56" font-size="9.6" text-anchor="end" fill="#1a1a1a">10<tspan font-size="5.76" dy="-4.8">-6</tspan></text>
<text x="32.2" y="285.48" font-size="9.6" text-anchor="end" fill="#1a1a1a">10<tspan font-size="5.76" dy="-4.8">-8</tspan></text>
<text x="32.2" y="311.4" font-size="9.6" text-anchor="end" fill="#1a1a1a">10<tspan font-size="5.76" dy="-4.8">-10</tspan></text>
<text x="34" y="318.2" font-size="9.4" text-anchor="middle" font-weight="normal" fill="#1a1a1a" >0.0</text>
<text x="66.4" y="318.2" font-size="9.4" text-anchor="middle" font-weight="normal" fill="#1a1a1a" >0.5</text>
<text x="98.8" y="318.2" font-size="9.4" text-anchor="middle" font-weight="normal" fill="#1a1a1a" >1.0</text>
<text x="131.2" y="318.2" font-size="9.4" text-anchor="middle" font-weight="normal" fill="#1a1a1a" >1.5</text>
<text x="163.6" y="318.2" font-size="9.4" text-anchor="middle" font-weight="normal" fill="#1a1a1a" >2.0</text>
<text x="99" y="330.7" font-size="11.8" text-anchor="middle" font-weight="normal" fill="#1a1a1a" >Applied voltage [V]</text>
<text transform="translate(12.6 247.3) rotate(-90)" font-size="12.2" text-anchor="middle" fill="#1a1a1a">Current density [A/cm<tspan font-size="8" dy="-5">2</tspan><tspan dy="5">]</tspan></text>
<text x="1" y="335.2" font-size="10.5" text-anchor="start" font-weight="bold" fill="#1a1a1a" >(c)</text>
<text x="37.8" y="188.3" font-size="9.3" fill="#1a1a1a">TiO<tspan font-size="5.5" dy="2.5">2</tspan><tspan dy="-2.5">, t</tspan><tspan font-size="5.2" dy="2.2">ox</tspan></text>
<path d="M37 198.4H55.6M37 208.7H55.6" stroke="#6070f0" stroke-width="0.8"/>
<rect x="43.4" y="195.1" width="6.6" height="6.6" fill="#1a2ef0" stroke="none" stroke-width="0"/>
<rect x="43.8" y="205.8" width="5.8" height="5.8" fill="#fff" stroke="#6070f0" stroke-width="1.1"/>
<text x="59" y="201.8" font-size="9.3" text-anchor="start" font-weight="normal" fill="#1a1a1a" >0.61 nm</text>
<text x="59" y="212.1" font-size="9.3" text-anchor="start" font-weight="normal" fill="#1a1a1a" >1.02 nm</text>
<text x="103.3" y="277.6" font-size="9.3" fill="#1a1a1a">HfO<tspan font-size="5.5" dy="2.5">2</tspan><tspan dy="-2.5">/TiO</tspan><tspan font-size="5.5" dy="2.5">2</tspan><tspan dy="-2.5">, t</tspan><tspan font-size="5.2" dy="2.2">ox</tspan></text>
<path d="M103.3 286.8H123M103.3 297.2H123" stroke="#ff5a5a" stroke-width="0.8"/>
<polygon points="112.6,283.02 109.1,289.32 116.1,289.32" fill="#f00000" stroke="none" stroke-width="0"/>
<polygon points="112.6,293.64 109.3,299.58 115.9,299.58" fill="#fff" stroke="#ff5a5a" stroke-width="1"/>
<text x="125" y="291" font-size="9.3" text-anchor="start" font-weight="normal" fill="#1a1a1a" >0.78 nm</text>
<text x="125" y="301.4" font-size="9.3" text-anchor="start" font-weight="normal" fill="#1a1a1a" >1.1 nm</text>
<g clip-path="url(#cd)">
<path d="M235.1 187.8 L238 205 L241.3 235 L243.7 252.8 L246 265 L248.1 274 L253.4 282 L259 284.8 L265.9 286.5 L283.6 289.2 L310 291.5 L337.8 294.5" fill="none" stroke="#f01818" stroke-width="0.9"/>
<path d="M246.7 178 L246.9 230 L247.7 240 L249.9 261.6 L254.3 275.9 L260.5 281.2 L271.2 282.6 L285 283.8 L339 286.3" fill="none" stroke="#f01818" stroke-width="0.9" stroke-dasharray="2 1.5"/>
<path d="M246 200.2 L249.2 230 L251.3 238 L253.4 249.2 L257.9 265.2 L263.2 275 L269.4 278.5 L349 291.5" fill="none" stroke="#333" stroke-width="0.9"/>
<path d="M263 183.3 L265.5 200 L268.5 215.3 L273 235 L276.5 244.8 L281.8 258.1 L285.2 266 L290.4 273.3 L300.7 279.5 L311 283 L339 285.7" fill="none" stroke="#333" stroke-width="0.9" stroke-dasharray="2 1.5"/>
<rect x="243.6" y="196.3" width="3.6" height="3.6" fill="#fff" stroke="#f01818" stroke-width="0.8"/>
<rect x="250.7" y="271.4" width="3.6" height="3.6" fill="#fff" stroke="#f01818" stroke-width="0.8"/>
<rect x="337.2" y="281.2" width="3.6" height="3.6" fill="#fff" stroke="#f01818" stroke-width="0.8"/>
<circle cx="268.5" cy="215.3" r="2.1" fill="#fff" stroke="#333" stroke-width="0.8"/>
<circle cx="276.9" cy="247.8" r="2.1" fill="#fff" stroke="#333" stroke-width="0.8"/>
<circle cx="290.4" cy="273.3" r="2.1" fill="#fff" stroke="#333" stroke-width="0.8"/>
<circle cx="304.8" cy="280.5" r="2.1" fill="#fff" stroke="#333" stroke-width="0.8"/>
<rect x="233.8" y="225.6" width="4.4" height="4.4" fill="#f01818" stroke="none" stroke-width="0"/>
<rect x="235.4" y="224.6" width="4.4" height="4.4" fill="#f01818" stroke="none" stroke-width="0"/>
<rect x="244.5" y="248.8" width="4.4" height="4.4" fill="#f01818" stroke="none" stroke-width="0"/>
<rect x="246.8" y="280" width="4.4" height="4.4" fill="#f01818" stroke="none" stroke-width="0"/>
<rect x="250.3" y="279.8" width="4.4" height="4.4" fill="#f01818" stroke="none" stroke-width="0"/>
<rect x="264" y="280.8" width="4.4" height="4.4" fill="#f01818" stroke="none" stroke-width="0"/>
<rect x="285.7" y="287.7" width="4.4" height="4.4" fill="#f01818" stroke="none" stroke-width="0"/>
<rect x="341.6" y="291.8" width="4.4" height="4.4" fill="#f01818" stroke="none" stroke-width="0"/>
<circle cx="245.4" cy="239.4" r="2.8" fill="#000" stroke="none" stroke-width="0"/>
<circle cx="245.4" cy="244.5" r="2.8" fill="#000" stroke="none" stroke-width="0"/>
<circle cx="246.2" cy="246" r="2.8" fill="#000" stroke="none" stroke-width="0"/>
<circle cx="254.3" cy="251.9" r="2.8" fill="#000" stroke="none" stroke-width="0"/>
<circle cx="255.2" cy="253.8" r="2.8" fill="#000" stroke="none" stroke-width="0"/>
<circle cx="257.3" cy="263.4" r="2.8" fill="#000" stroke="none" stroke-width="0"/>
<circle cx="260.5" cy="272.3" r="2.8" fill="#000" stroke="none" stroke-width="0"/>
<circle cx="263.2" cy="274.4" r="2.8" fill="#000" stroke="none" stroke-width="0"/>
<circle cx="297" cy="282.2" r="2.8" fill="#000" stroke="none" stroke-width="0"/>
<circle cx="339" cy="287.2" r="2.8" fill="#000" stroke="none" stroke-width="0"/>
</g>
<rect x="277.3" y="178.5" width="68.1" height="51.7" fill="#fff" stroke="#444" stroke-width="1.2"/>
<circle cx="282.6" cy="185.3" r="3" fill="#000" stroke="none" stroke-width="0"/>
<rect x="280.4" y="195.7" width="4.4" height="4.4" fill="#f01818" stroke="none" stroke-width="0"/>
<circle cx="282.6" cy="210.4" r="2.5" fill="#fff" stroke="#333" stroke-width="1.0"/>
<rect x="279.7" y="219.6" width="5" height="5" fill="#fff" stroke="#f56a6a" stroke-width="1.1"/>
<text x="292.8" y="188.6" font-size="8.8" fill="#1a1a1a" textLength="33.1" lengthAdjust="spacingAndGlyphs">TiO<tspan font-size="5.3" dy="2.4">2</tspan><tspan dy="-2.4">RuO</tspan><tspan font-size="5.3" dy="2.4">2</tspan></text>
<text x="292.8" y="201.2" font-size="8.8" fill="#1a1a1a" textLength="37.7" lengthAdjust="spacingAndGlyphs">ATO/RuO<tspan font-size="5.3" dy="2.4">2</tspan></text>
<text x="292.8" y="213.7" font-size="8.8" fill="#1a1a1a" textLength="51.4" lengthAdjust="spacingAndGlyphs">TiO<tspan font-size="5.3" dy="2.4">2</tspan><tspan dy="-2.4">/Ru[ref.41]</tspan></text>
<text x="292.8" y="225.2" font-size="8.8" fill="#1a1a1a" textLength="51.4" lengthAdjust="spacingAndGlyphs">ATO/Ru[ref.46]</text>
<rect x="217.3" y="178.5" width="130" height="129.6" fill="none" stroke="#444" stroke-width="1"/>
<path d="M229.12 308.1v-1.3M229.12 178.5v1.3" stroke="#444" stroke-width="0.8"/>
<path d="M240.94 308.1v-2.2M240.94 178.5v2.2" stroke="#444" stroke-width="0.8"/>
<path d="M252.76 308.1v-1.3M252.76 178.5v1.3" stroke="#444" stroke-width="0.8"/>
<path d="M264.58 308.1v-2.2M264.58 178.5v2.2" stroke="#444" stroke-width="0.8"/>
<path d="M276.4 308.1v-1.3M276.4 178.5v1.3" stroke="#444" stroke-width="0.8"/>
<path d="M288.22 308.1v-2.2M288.22 178.5v2.2" stroke="#444" stroke-width="0.8"/>
<path d="M300.04 308.1v-1.3M300.04 178.5v1.3" stroke="#444" stroke-width="0.8"/>
<path d="M311.86 308.1v-2.2M311.86 178.5v2.2" stroke="#444" stroke-width="0.8"/>
<path d="M323.68 308.1v-1.3M323.68 178.5v1.3" stroke="#444" stroke-width="0.8"/>
<path d="M335.5 308.1v-2.2M335.5 178.5v2.2" stroke="#444" stroke-width="0.8"/>
<path d="M217.3 191.46h1.5M347.3 191.46h-1.5" stroke="#444" stroke-width="0.8"/>
<path d="M217.3 204.42h2.2M347.3 204.42h-2.2" stroke="#444" stroke-width="0.8"/>
<path d="M217.3 217.38h1.5M347.3 217.38h-1.5" stroke="#444" stroke-width="0.8"/>
<path d="M217.3 230.34h2.2M347.3 230.34h-2.2" stroke="#444" stroke-width="0.8"/>
<path d="M217.3 243.3h1.5M347.3 243.3h-1.5" stroke="#444" stroke-width="0.8"/>
<path d="M217.3 256.26h2.2M347.3 256.26h-2.2" stroke="#444" stroke-width="0.8"/>
<path d="M217.3 269.22h1.5M347.3 269.22h-1.5" stroke="#444" stroke-width="0.8"/>
<path d="M217.3 282.18h2.2M347.3 282.18h-2.2" stroke="#444" stroke-width="0.8"/>
<path d="M217.3 295.14h1.5M347.3 295.14h-1.5" stroke="#444" stroke-width="0.8"/>
<text x="215.2" y="181.9" font-size="9.1" text-anchor="end" fill="#1a1a1a">10<tspan font-size="5.46" dy="-4.55">0</tspan></text>
<text x="215.2" y="207.82" font-size="9.1" text-anchor="end" fill="#1a1a1a">10<tspan font-size="5.46" dy="-4.55">-2</tspan></text>
<text x="215.2" y="233.74" font-size="9.1" text-anchor="end" fill="#1a1a1a">10<tspan font-size="5.46" dy="-4.55">-4</tspan></text>
<text x="215.2" y="259.66" font-size="9.1" text-anchor="end" fill="#1a1a1a">10<tspan font-size="5.46" dy="-4.55">-6</tspan></text>
<text x="215.2" y="285.58" font-size="9.1" text-anchor="end" fill="#1a1a1a">10<tspan font-size="5.46" dy="-4.55">-8</tspan></text>
<text x="215.2" y="311.5" font-size="9.1" text-anchor="end" fill="#1a1a1a">10<tspan font-size="5.46" dy="-4.55">-10</tspan></text>
<text x="217.3" y="318.8" font-size="9.6" text-anchor="middle" font-weight="normal" fill="#1a1a1a" >0.2</text>
<text x="240.94" y="318.8" font-size="9.6" text-anchor="middle" font-weight="normal" fill="#1a1a1a" >0.4</text>
<text x="264.58" y="318.8" font-size="9.6" text-anchor="middle" font-weight="normal" fill="#1a1a1a" >0.6</text>
<text x="288.22" y="318.8" font-size="9.6" text-anchor="middle" font-weight="normal" fill="#1a1a1a" >0.8</text>
<text x="311.86" y="318.8" font-size="9.6" text-anchor="middle" font-weight="normal" fill="#1a1a1a" >1.0</text>
<text x="335.5" y="318.8" font-size="9.6" text-anchor="middle" font-weight="normal" fill="#1a1a1a" >1.2</text>
<text x="263.5" y="332.3" font-size="12" fill="#1a1a1a">t<tspan font-size="7" dy="3.8">ox</tspan><tspan dy="-3.8" dx="1"> [nm]</tspan></text>
<text transform="translate(192.3 245) rotate(-90)" font-size="11.5" text-anchor="middle" fill="#1a1a1a">Current density@0.8V [A/cm<tspan font-size="7.7" dy="-4.8">2</tspan><tspan dy="4.8">]</tspan></text>
<text x="181" y="336.3" font-size="10.5" text-anchor="start" font-weight="bold" fill="#1a1a1a" >(d)</text>
<g clip-path="url(#cs)">
<path d="M190 24.6H349M190 55.6H349" stroke="#999" stroke-width="0.7" stroke-dasharray="0.8 1.6"/>
<path d="M190.2 24.6V55.6" stroke="#aaa" stroke-width="0.7" stroke-dasharray="0.8 1.6"/>
<path d="M185.18 24.4L185.18 29.9" stroke="#2e8b93" stroke-width="2.25"/>
<path d="M185.18 29.9L185.18 34.4" stroke="#e8141c" stroke-width="1.8"/>
<path d="M185.18 24.4L179.73 28.03" stroke="#2e8b93" stroke-width="2.25"/>
<path d="M179.73 28.03L175.27 31" stroke="#e8141c" stroke-width="1.8"/>
<path d="M185.18 24.4L190.63 28.03" stroke="#2e8b93" stroke-width="2.25"/>
<path d="M190.63 28.03L195.09 31" stroke="#e8141c" stroke-width="1.8"/>
<path d="M185.18 24.4L185.18 18.4" stroke="#2e8b93" stroke-width="2.25"/>
<path d="M185.18 24.4L179.98 21.4" stroke="#2e8b93" stroke-width="2.25"/>
<path d="M185.18 24.4L190.38 21.4" stroke="#2e8b93" stroke-width="2.25"/>
<path d="M185.18 56L185.18 50.61" stroke="#2e8b93" stroke-width="2.25"/>
<path d="M185.18 50.61L185.18 46.2" stroke="#e8141c" stroke-width="1.8"/>
<path d="M185.18 56L179.73 52.48" stroke="#2e8b93" stroke-width="2.25"/>
<path d="M179.73 52.48L175.27 49.6" stroke="#e8141c" stroke-width="1.8"/>
<path d="M185.18 56L190.63 52.48" stroke="#2e8b93" stroke-width="2.25"/>
<path d="M190.63 52.48L195.09 49.6" stroke="#e8141c" stroke-width="1.8"/>
<path d="M185.18 56L185.18 62" stroke="#2e8b93" stroke-width="2.25"/>
<path d="M185.18 56L179.98 59" stroke="#2e8b93" stroke-width="2.25"/>
<path d="M185.18 56L190.38 59" stroke="#2e8b93" stroke-width="2.25"/>
<path d="M175.28 40.2L175.28 35.14" stroke="#2e8b93" stroke-width="2.25"/>
<path d="M175.28 35.14L175.28 31" stroke="#e8141c" stroke-width="1.8"/>
<path d="M175.28 40.2L175.28 45.37" stroke="#2e8b93" stroke-width="2.25"/>
<path d="M175.28 45.37L175.28 49.6" stroke="#e8141c" stroke-width="1.8"/>
<path d="M175.28 40.2L169.83 37.01" stroke="#2e8b93" stroke-width="2.25"/>
<path d="M169.83 37.01L165.37 34.4" stroke="#e8141c" stroke-width="1.8"/>
<path d="M175.28 40.2L180.73 37.01" stroke="#2e8b93" stroke-width="2.25"/>
<path d="M180.73 37.01L185.19 34.4" stroke="#e8141c" stroke-width="1.8"/>
<path d="M175.28 40.2L169.83 43.5" stroke="#2e8b93" stroke-width="2.25"/>
<path d="M169.83 43.5L165.37 46.2" stroke="#e8141c" stroke-width="1.8"/>
<path d="M175.28 40.2L180.73 43.5" stroke="#2e8b93" stroke-width="2.25"/>
<path d="M180.73 43.5L185.19 46.2" stroke="#e8141c" stroke-width="1.8"/>
<path d="M205 24.4L205 29.9" stroke="#2e8b93" stroke-width="2.25"/>
<path d="M205 29.9L205 34.4" stroke="#e8141c" stroke-width="1.8"/>
<path d="M205 24.4L199.55 28.03" stroke="#2e8b93" stroke-width="2.25"/>
<path d="M199.55 28.03L195.09 31" stroke="#e8141c" stroke-width="1.8"/>
<path d="M205 24.4L210.45 28.03" stroke="#2e8b93" stroke-width="2.25"/>
<path d="M210.45 28.03L214.91 31" stroke="#e8141c" stroke-width="1.8"/>
<path d="M205 24.4L205 18.4" stroke="#2e8b93" stroke-width="2.25"/>
<path d="M205 24.4L199.8 21.4" stroke="#2e8b93" stroke-width="2.25"/>
<path d="M205 24.4L210.2 21.4" stroke="#2e8b93" stroke-width="2.25"/>
<path d="M205 56L205 50.61" stroke="#2e8b93" stroke-width="2.25"/>
<path d="M205 50.61L205 46.2" stroke="#e8141c" stroke-width="1.8"/>
<path d="M205 56L199.55 52.48" stroke="#2e8b93" stroke-width="2.25"/>
<path d="M199.55 52.48L195.09 49.6" stroke="#e8141c" stroke-width="1.8"/>
<path d="M205 56L210.45 52.48" stroke="#2e8b93" stroke-width="2.25"/>
<path d="M210.45 52.48L214.91 49.6" stroke="#e8141c" stroke-width="1.8"/>
<path d="M205 56L205 62" stroke="#2e8b93" stroke-width="2.25"/>
<path d="M205 56L199.8 59" stroke="#2e8b93" stroke-width="2.25"/>
<path d="M205 56L210.2 59" stroke="#2e8b93" stroke-width="2.25"/>
<path d="M195.1 40.2L195.1 35.14" stroke="#2e8b93" stroke-width="2.25"/>
<path d="M195.1 35.14L195.1 31" stroke="#e8141c" stroke-width="1.8"/>
<path d="M195.1 40.2L195.1 45.37" stroke="#2e8b93" stroke-width="2.25"/>
<path d="M195.1 45.37L195.1 49.6" stroke="#e8141c" stroke-width="1.8"/>
<path d="M195.1 40.2L189.65 37.01" stroke="#2e8b93" stroke-width="2.25"/>
<path d="M189.65 37.01L185.19 34.4" stroke="#e8141c" stroke-width="1.8"/>
<path d="M195.1 40.2L200.55 37.01" stroke="#2e8b93" stroke-width="2.25"/>
<path d="M200.55 37.01L205.01 34.4" stroke="#e8141c" stroke-width="1.8"/>
<path d="M195.1 40.2L189.65 43.5" stroke="#2e8b93" stroke-width="2.25"/>
<path d="M189.65 43.5L185.19 46.2" stroke="#e8141c" stroke-width="1.8"/>
<path d="M195.1 40.2L200.55 43.5" stroke="#2e8b93" stroke-width="2.25"/>
<path d="M200.55 43.5L205.01 46.2" stroke="#e8141c" stroke-width="1.8"/>
<path d="M224.82 24.4L224.82 29.9" stroke="#2e8b93" stroke-width="2.25"/>
<path d="M224.82 29.9L224.82 34.4" stroke="#e8141c" stroke-width="1.8"/>
<path d="M224.82 24.4L219.37 28.03" stroke="#2e8b93" stroke-width="2.25"/>
<path d="M219.37 28.03L214.91 31" stroke="#e8141c" stroke-width="1.8"/>
<path d="M224.82 24.4L230.27 28.03" stroke="#2e8b93" stroke-width="2.25"/>
<path d="M230.27 28.03L234.73 31" stroke="#e8141c" stroke-width="1.8"/>
<path d="M224.82 24.4L224.82 18.4" stroke="#2e8b93" stroke-width="2.25"/>
<path d="M224.82 24.4L219.62 21.4" stroke="#2e8b93" stroke-width="2.25"/>
<path d="M224.82 24.4L230.02 21.4" stroke="#2e8b93" stroke-width="2.25"/>
<path d="M224.82 56L224.82 50.61" stroke="#2e8b93" stroke-width="2.25"/>
<path d="M224.82 50.61L224.82 46.2" stroke="#e8141c" stroke-width="1.8"/>
<path d="M224.82 56L219.37 52.48" stroke="#2e8b93" stroke-width="2.25"/>
<path d="M219.37 52.48L214.91 49.6" stroke="#e8141c" stroke-width="1.8"/>
<path d="M224.82 56L230.27 52.48" stroke="#2e8b93" stroke-width="2.25"/>
<path d="M230.27 52.48L234.73 49.6" stroke="#e8141c" stroke-width="1.8"/>
<path d="M224.82 56L224.82 62" stroke="#2e8b93" stroke-width="2.25"/>
<path d="M224.82 56L219.62 59" stroke="#2e8b93" stroke-width="2.25"/>
<path d="M224.82 56L230.02 59" stroke="#2e8b93" stroke-width="2.25"/>
<path d="M214.92 40.2L214.92 35.14" stroke="#2e8b93" stroke-width="2.25"/>
<path d="M214.92 35.14L214.92 31" stroke="#e8141c" stroke-width="1.8"/>
<path d="M214.92 40.2L214.92 45.37" stroke="#2e8b93" stroke-width="2.25"/>
<path d="M214.92 45.37L214.92 49.6" stroke="#e8141c" stroke-width="1.8"/>
<path d="M214.92 40.2L209.47 37.01" stroke="#2e8b93" stroke-width="2.25"/>
<path d="M209.47 37.01L205.01 34.4" stroke="#e8141c" stroke-width="1.8"/>
<path d="M214.92 40.2L220.37 37.01" stroke="#2e8b93" stroke-width="2.25"/>
<path d="M220.37 37.01L224.83 34.4" stroke="#e8141c" stroke-width="1.8"/>
<path d="M214.92 40.2L209.47 43.5" stroke="#2e8b93" stroke-width="2.25"/>
<path d="M209.47 43.5L205.01 46.2" stroke="#e8141c" stroke-width="1.8"/>
<path d="M214.92 40.2L220.37 43.5" stroke="#2e8b93" stroke-width="2.25"/>
<path d="M220.37 43.5L224.83 46.2" stroke="#e8141c" stroke-width="1.8"/>
<path d="M244.64 24.4L244.64 29.9" stroke="#9e9e9e" stroke-width="2.25"/>
<path d="M244.64 29.9L244.64 34.4" stroke="#e8141c" stroke-width="1.8"/>
<path d="M244.64 24.4L239.19 28.03" stroke="#9e9e9e" stroke-width="2.25"/>
<path d="M239.19 28.03L234.73 31" stroke="#e8141c" stroke-width="1.8"/>
<path d="M244.64 24.4L250.09 28.03" stroke="#9e9e9e" stroke-width="2.25"/>
<path d="M250.09 28.03L254.55 31" stroke="#e8141c" stroke-width="1.8"/>
<path d="M244.64 24.4L244.64 18.4" stroke="#9e9e9e" stroke-width="2.25"/>
<path d="M244.64 24.4L239.44 21.4" stroke="#9e9e9e" stroke-width="2.25"/>
<path d="M244.64 24.4L249.84 21.4" stroke="#9e9e9e" stroke-width="2.25"/>
<path d="M244.64 56L244.64 50.61" stroke="#9e9e9e" stroke-width="2.25"/>
<path d="M244.64 50.61L244.64 46.2" stroke="#e8141c" stroke-width="1.8"/>
<path d="M244.64 56L239.19 52.48" stroke="#9e9e9e" stroke-width="2.25"/>
<path d="M239.19 52.48L234.73 49.6" stroke="#e8141c" stroke-width="1.8"/>
<path d="M244.64 56L250.09 52.48" stroke="#9e9e9e" stroke-width="2.25"/>
<path d="M250.09 52.48L254.55 49.6" stroke="#e8141c" stroke-width="1.8"/>
<path d="M244.64 56L244.64 62" stroke="#9e9e9e" stroke-width="2.25"/>
<path d="M244.64 56L239.44 59" stroke="#9e9e9e" stroke-width="2.25"/>
<path d="M244.64 56L249.84 59" stroke="#9e9e9e" stroke-width="2.25"/>
<path d="M234.74 40.2L234.74 35.14" stroke="#9e9e9e" stroke-width="2.25"/>
<path d="M234.74 35.14L234.74 31" stroke="#e8141c" stroke-width="1.8"/>
<path d="M234.74 40.2L234.74 45.37" stroke="#9e9e9e" stroke-width="2.25"/>
<path d="M234.74 45.37L234.74 49.6" stroke="#e8141c" stroke-width="1.8"/>
<path d="M234.74 40.2L229.29 37.01" stroke="#9e9e9e" stroke-width="2.25"/>
<path d="M229.29 37.01L224.83 34.4" stroke="#e8141c" stroke-width="1.8"/>
<path d="M234.74 40.2L240.19 37.01" stroke="#9e9e9e" stroke-width="2.25"/>
<path d="M240.19 37.01L244.65 34.4" stroke="#e8141c" stroke-width="1.8"/>
<path d="M234.74 40.2L229.29 43.5" stroke="#9e9e9e" stroke-width="2.25"/>
<path d="M229.29 43.5L224.83 46.2" stroke="#e8141c" stroke-width="1.8"/>
<path d="M234.74 40.2L240.19 43.5" stroke="#9e9e9e" stroke-width="2.25"/>
<path d="M240.19 43.5L244.65 46.2" stroke="#e8141c" stroke-width="1.8"/>
<path d="M264.46 24.4L264.46 29.9" stroke="#9e9e9e" stroke-width="2.25"/>
<path d="M264.46 29.9L264.46 34.4" stroke="#e8141c" stroke-width="1.8"/>
<path d="M264.46 24.4L259.01 28.03" stroke="#9e9e9e" stroke-width="2.25"/>
<path d="M259.01 28.03L254.55 31" stroke="#e8141c" stroke-width="1.8"/>
<path d="M264.46 24.4L269.91 28.03" stroke="#9e9e9e" stroke-width="2.25"/>
<path d="M269.91 28.03L274.37 31" stroke="#e8141c" stroke-width="1.8"/>
<path d="M264.46 24.4L264.46 18.4" stroke="#9e9e9e" stroke-width="2.25"/>
<path d="M264.46 24.4L259.26 21.4" stroke="#9e9e9e" stroke-width="2.25"/>
<path d="M264.46 24.4L269.66 21.4" stroke="#9e9e9e" stroke-width="2.25"/>
<path d="M264.46 56L264.46 50.61" stroke="#9e9e9e" stroke-width="2.25"/>
<path d="M264.46 50.61L264.46 46.2" stroke="#e8141c" stroke-width="1.8"/>
<path d="M264.46 56L259.01 52.48" stroke="#9e9e9e" stroke-width="2.25"/>
<path d="M259.01 52.48L254.55 49.6" stroke="#e8141c" stroke-width="1.8"/>
<path d="M264.46 56L269.91 52.48" stroke="#9e9e9e" stroke-width="2.25"/>
<path d="M269.91 52.48L274.37 49.6" stroke="#e8141c" stroke-width="1.8"/>
<path d="M264.46 56L264.46 62" stroke="#9e9e9e" stroke-width="2.25"/>
<path d="M264.46 56L259.26 59" stroke="#9e9e9e" stroke-width="2.25"/>
<path d="M264.46 56L269.66 59" stroke="#9e9e9e" stroke-width="2.25"/>
<path d="M254.56 40.2L254.56 35.14" stroke="#9e9e9e" stroke-width="2.25"/>
<path d="M254.56 35.14L254.56 31" stroke="#e8141c" stroke-width="1.8"/>
<path d="M254.56 40.2L254.56 45.37" stroke="#9e9e9e" stroke-width="2.25"/>
<path d="M254.56 45.37L254.56 49.6" stroke="#e8141c" stroke-width="1.8"/>
<path d="M254.56 40.2L249.11 37.01" stroke="#9e9e9e" stroke-width="2.25"/>
<path d="M249.11 37.01L244.65 34.4" stroke="#e8141c" stroke-width="1.8"/>
<path d="M254.56 40.2L260.01 37.01" stroke="#9e9e9e" stroke-width="2.25"/>
<path d="M260.01 37.01L264.47 34.4" stroke="#e8141c" stroke-width="1.8"/>
<path d="M254.56 40.2L249.11 43.5" stroke="#9e9e9e" stroke-width="2.25"/>
<path d="M249.11 43.5L244.65 46.2" stroke="#e8141c" stroke-width="1.8"/>
<path d="M254.56 40.2L260.01 43.5" stroke="#9e9e9e" stroke-width="2.25"/>
<path d="M260.01 43.5L264.47 46.2" stroke="#e8141c" stroke-width="1.8"/>
<path d="M284.28 24.4L284.28 29.9" stroke="#9e9e9e" stroke-width="2.25"/>
<path d="M284.28 29.9L284.28 34.4" stroke="#e8141c" stroke-width="1.8"/>
<path d="M284.28 24.4L278.83 28.03" stroke="#9e9e9e" stroke-width="2.25"/>
<path d="M278.83 28.03L274.37 31" stroke="#e8141c" stroke-width="1.8"/>
<path d="M284.28 24.4L289.73 28.03" stroke="#9e9e9e" stroke-width="2.25"/>
<path d="M289.73 28.03L294.19 31" stroke="#e8141c" stroke-width="1.8"/>
<path d="M284.28 24.4L284.28 18.4" stroke="#9e9e9e" stroke-width="2.25"/>
<path d="M284.28 24.4L279.08 21.4" stroke="#9e9e9e" stroke-width="2.25"/>
<path d="M284.28 24.4L289.48 21.4" stroke="#9e9e9e" stroke-width="2.25"/>
<path d="M284.28 56L284.28 50.61" stroke="#9e9e9e" stroke-width="2.25"/>
<path d="M284.28 50.61L284.28 46.2" stroke="#e8141c" stroke-width="1.8"/>
<path d="M284.28 56L278.83 52.48" stroke="#9e9e9e" stroke-width="2.25"/>
<path d="M278.83 52.48L274.37 49.6" stroke="#e8141c" stroke-width="1.8"/>
<path d="M284.28 56L289.73 52.48" stroke="#9e9e9e" stroke-width="2.25"/>
<path d="M289.73 52.48L294.19 49.6" stroke="#e8141c" stroke-width="1.8"/>
<path d="M284.28 56L284.28 62" stroke="#9e9e9e" stroke-width="2.25"/>
<path d="M284.28 56L279.08 59" stroke="#9e9e9e" stroke-width="2.25"/>
<path d="M284.28 56L289.48 59" stroke="#9e9e9e" stroke-width="2.25"/>
<path d="M274.38 40.2L274.38 35.14" stroke="#9e9e9e" stroke-width="2.25"/>
<path d="M274.38 35.14L274.38 31" stroke="#e8141c" stroke-width="1.8"/>
<path d="M274.38 40.2L274.38 45.37" stroke="#9e9e9e" stroke-width="2.25"/>
<path d="M274.38 45.37L274.38 49.6" stroke="#e8141c" stroke-width="1.8"/>
<path d="M274.38 40.2L268.93 37.01" stroke="#9e9e9e" stroke-width="2.25"/>
<path d="M268.93 37.01L264.47 34.4" stroke="#e8141c" stroke-width="1.8"/>
<path d="M274.38 40.2L279.83 37.01" stroke="#9e9e9e" stroke-width="2.25"/>
<path d="M279.83 37.01L284.29 34.4" stroke="#e8141c" stroke-width="1.8"/>
<path d="M274.38 40.2L268.93 43.5" stroke="#9e9e9e" stroke-width="2.25"/>
<path d="M268.93 43.5L264.47 46.2" stroke="#e8141c" stroke-width="1.8"/>
<path d="M274.38 40.2L279.83 43.5" stroke="#9e9e9e" stroke-width="2.25"/>
<path d="M279.83 43.5L284.29 46.2" stroke="#e8141c" stroke-width="1.8"/>
<path d="M304.1 24.4L304.1 29.9" stroke="#9e9e9e" stroke-width="2.25"/>
<path d="M304.1 29.9L304.1 34.4" stroke="#e8141c" stroke-width="1.8"/>
<path d="M304.1 24.4L298.65 28.03" stroke="#9e9e9e" stroke-width="2.25"/>
<path d="M298.65 28.03L294.19 31" stroke="#e8141c" stroke-width="1.8"/>
<path d="M304.1 24.4L309.55 28.03" stroke="#9e9e9e" stroke-width="2.25"/>
<path d="M309.55 28.03L314.01 31" stroke="#e8141c" stroke-width="1.8"/>
<path d="M304.1 24.4L304.1 18.4" stroke="#9e9e9e" stroke-width="2.25"/>
<path d="M304.1 24.4L298.9 21.4" stroke="#9e9e9e" stroke-width="2.25"/>
<path d="M304.1 24.4L309.3 21.4" stroke="#9e9e9e" stroke-width="2.25"/>
<path d="M304.1 56L304.1 50.61" stroke="#9e9e9e" stroke-width="2.25"/>
<path d="M304.1 50.61L304.1 46.2" stroke="#e8141c" stroke-width="1.8"/>
<path d="M304.1 56L298.65 52.48" stroke="#9e9e9e" stroke-width="2.25"/>
<path d="M298.65 52.48L294.19 49.6" stroke="#e8141c" stroke-width="1.8"/>
<path d="M304.1 56L309.55 52.48" stroke="#9e9e9e" stroke-width="2.25"/>
<path d="M309.55 52.48L314.01 49.6" stroke="#e8141c" stroke-width="1.8"/>
<path d="M304.1 56L304.1 62" stroke="#9e9e9e" stroke-width="2.25"/>
<path d="M304.1 56L298.9 59" stroke="#9e9e9e" stroke-width="2.25"/>
<path d="M304.1 56L309.3 59" stroke="#9e9e9e" stroke-width="2.25"/>
<path d="M294.2 40.2L294.2 35.14" stroke="#9e9e9e" stroke-width="2.25"/>
<path d="M294.2 35.14L294.2 31" stroke="#e8141c" stroke-width="1.8"/>
<path d="M294.2 40.2L294.2 45.37" stroke="#9e9e9e" stroke-width="2.25"/>
<path d="M294.2 45.37L294.2 49.6" stroke="#e8141c" stroke-width="1.8"/>
<path d="M294.2 40.2L288.75 37.01" stroke="#9e9e9e" stroke-width="2.25"/>
<path d="M288.75 37.01L284.29 34.4" stroke="#e8141c" stroke-width="1.8"/>
<path d="M294.2 40.2L299.65 37.01" stroke="#9e9e9e" stroke-width="2.25"/>
<path d="M299.65 37.01L304.11 34.4" stroke="#e8141c" stroke-width="1.8"/>
<path d="M294.2 40.2L288.75 43.5" stroke="#9e9e9e" stroke-width="2.25"/>
<path d="M288.75 43.5L284.29 46.2" stroke="#e8141c" stroke-width="1.8"/>
<path d="M294.2 40.2L299.65 43.5" stroke="#9e9e9e" stroke-width="2.25"/>
<path d="M299.65 43.5L304.11 46.2" stroke="#e8141c" stroke-width="1.8"/>
<path d="M323.92 24.4L323.92 29.9" stroke="#2e8b93" stroke-width="2.25"/>
<path d="M323.92 29.9L323.92 34.4" stroke="#e8141c" stroke-width="1.8"/>
<path d="M323.92 24.4L318.47 28.03" stroke="#2e8b93" stroke-width="2.25"/>
<path d="M318.47 28.03L314.01 31" stroke="#e8141c" stroke-width="1.8"/>
<path d="M323.92 24.4L329.37 28.03" stroke="#2e8b93" stroke-width="2.25"/>
<path d="M329.37 28.03L333.83 31" stroke="#e8141c" stroke-width="1.8"/>
<path d="M323.92 24.4L323.92 18.4" stroke="#2e8b93" stroke-width="2.25"/>
<path d="M323.92 24.4L318.72 21.4" stroke="#2e8b93" stroke-width="2.25"/>
<path d="M323.92 24.4L329.12 21.4" stroke="#2e8b93" stroke-width="2.25"/>
<path d="M323.92 56L323.92 50.61" stroke="#2e8b93" stroke-width="2.25"/>
<path d="M323.92 50.61L323.92 46.2" stroke="#e8141c" stroke-width="1.8"/>
<path d="M323.92 56L318.47 52.48" stroke="#2e8b93" stroke-width="2.25"/>
<path d="M318.47 52.48L314.01 49.6" stroke="#e8141c" stroke-width="1.8"/>
<path d="M323.92 56L329.37 52.48" stroke="#2e8b93" stroke-width="2.25"/>
<path d="M329.37 52.48L333.83 49.6" stroke="#e8141c" stroke-width="1.8"/>
<path d="M323.92 56L323.92 62" stroke="#2e8b93" stroke-width="2.25"/>
<path d="M323.92 56L318.72 59" stroke="#2e8b93" stroke-width="2.25"/>
<path d="M323.92 56L329.12 59" stroke="#2e8b93" stroke-width="2.25"/>
<path d="M314.02 40.2L314.02 35.14" stroke="#2e8b93" stroke-width="2.25"/>
<path d="M314.02 35.14L314.02 31" stroke="#e8141c" stroke-width="1.8"/>
<path d="M314.02 40.2L314.02 45.37" stroke="#2e8b93" stroke-width="2.25"/>
<path d="M314.02 45.37L314.02 49.6" stroke="#e8141c" stroke-width="1.8"/>
<path d="M314.02 40.2L308.57 37.01" stroke="#2e8b93" stroke-width="2.25"/>
<path d="M308.57 37.01L304.11 34.4" stroke="#e8141c" stroke-width="1.8"/>
<path d="M314.02 40.2L319.47 37.01" stroke="#2e8b93" stroke-width="2.25"/>
<path d="M319.47 37.01L323.93 34.4" stroke="#e8141c" stroke-width="1.8"/>
<path d="M314.02 40.2L308.57 43.5" stroke="#2e8b93" stroke-width="2.25"/>
<path d="M308.57 43.5L304.11 46.2" stroke="#e8141c" stroke-width="1.8"/>
<path d="M314.02 40.2L319.47 43.5" stroke="#2e8b93" stroke-width="2.25"/>
<path d="M319.47 43.5L323.93 46.2" stroke="#e8141c" stroke-width="1.8"/>
<path d="M343.74 24.4L343.74 29.9" stroke="#2e8b93" stroke-width="2.25"/>
<path d="M343.74 29.9L343.74 34.4" stroke="#e8141c" stroke-width="1.8"/>
<path d="M343.74 24.4L338.29 28.03" stroke="#2e8b93" stroke-width="2.25"/>
<path d="M338.29 28.03L333.83 31" stroke="#e8141c" stroke-width="1.8"/>
<path d="M343.74 24.4L349.19 28.03" stroke="#2e8b93" stroke-width="2.25"/>
<path d="M349.19 28.03L353.65 31" stroke="#e8141c" stroke-width="1.8"/>
<path d="M343.74 24.4L343.74 18.4" stroke="#2e8b93" stroke-width="2.25"/>
<path d="M343.74 24.4L338.54 21.4" stroke="#2e8b93" stroke-width="2.25"/>
<path d="M343.74 24.4L348.94 21.4" stroke="#2e8b93" stroke-width="2.25"/>
<path d="M343.74 56L343.74 50.61" stroke="#2e8b93" stroke-width="2.25"/>
<path d="M343.74 50.61L343.74 46.2" stroke="#e8141c" stroke-width="1.8"/>
<path d="M343.74 56L338.29 52.48" stroke="#2e8b93" stroke-width="2.25"/>
<path d="M338.29 52.48L333.83 49.6" stroke="#e8141c" stroke-width="1.8"/>
<path d="M343.74 56L349.19 52.48" stroke="#2e8b93" stroke-width="2.25"/>
<path d="M349.19 52.48L353.65 49.6" stroke="#e8141c" stroke-width="1.8"/>
<path d="M343.74 56L343.74 62" stroke="#2e8b93" stroke-width="2.25"/>
<path d="M343.74 56L338.54 59" stroke="#2e8b93" stroke-width="2.25"/>
<path d="M343.74 56L348.94 59" stroke="#2e8b93" stroke-width="2.25"/>
<path d="M333.84 40.2L333.84 35.14" stroke="#2e8b93" stroke-width="2.25"/>
<path d="M333.84 35.14L333.84 31" stroke="#e8141c" stroke-width="1.8"/>
<path d="M333.84 40.2L333.84 45.37" stroke="#2e8b93" stroke-width="2.25"/>
<path d="M333.84 45.37L333.84 49.6" stroke="#e8141c" stroke-width="1.8"/>
<path d="M333.84 40.2L328.39 37.01" stroke="#2e8b93" stroke-width="2.25"/>
<path d="M328.39 37.01L323.93 34.4" stroke="#e8141c" stroke-width="1.8"/>
<path d="M333.84 40.2L339.29 37.01" stroke="#2e8b93" stroke-width="2.25"/>
<path d="M339.29 37.01L343.75 34.4" stroke="#e8141c" stroke-width="1.8"/>
<path d="M333.84 40.2L328.39 43.5" stroke="#2e8b93" stroke-width="2.25"/>
<path d="M328.39 43.5L323.93 46.2" stroke="#e8141c" stroke-width="1.8"/>
<path d="M333.84 40.2L339.29 43.5" stroke="#2e8b93" stroke-width="2.25"/>
<path d="M339.29 43.5L343.75 46.2" stroke="#e8141c" stroke-width="1.8"/>
<path d="M363.56 24.4L363.56 29.9" stroke="#2e8b93" stroke-width="2.25"/>
<path d="M363.56 29.9L363.56 34.4" stroke="#e8141c" stroke-width="1.8"/>
<path d="M363.56 24.4L358.11 28.03" stroke="#2e8b93" stroke-width="2.25"/>
<path d="M358.11 28.03L353.65 31" stroke="#e8141c" stroke-width="1.8"/>
<path d="M363.56 24.4L369.01 28.03" stroke="#2e8b93" stroke-width="2.25"/>
<path d="M369.01 28.03L373.47 31" stroke="#e8141c" stroke-width="1.8"/>
<path d="M363.56 24.4L363.56 18.4" stroke="#2e8b93" stroke-width="2.25"/>
<path d="M363.56 24.4L358.36 21.4" stroke="#2e8b93" stroke-width="2.25"/>
<path d="M363.56 24.4L368.76 21.4" stroke="#2e8b93" stroke-width="2.25"/>
<path d="M363.56 56L363.56 50.61" stroke="#2e8b93" stroke-width="2.25"/>
<path d="M363.56 50.61L363.56 46.2" stroke="#e8141c" stroke-width="1.8"/>
<path d="M363.56 56L358.11 52.48" stroke="#2e8b93" stroke-width="2.25"/>
<path d="M358.11 52.48L353.65 49.6" stroke="#e8141c" stroke-width="1.8"/>
<path d="M363.56 56L369.01 52.48" stroke="#2e8b93" stroke-width="2.25"/>
<path d="M369.01 52.48L373.47 49.6" stroke="#e8141c" stroke-width="1.8"/>
<path d="M363.56 56L363.56 62" stroke="#2e8b93" stroke-width="2.25"/>
<path d="M363.56 56L358.36 59" stroke="#2e8b93" stroke-width="2.25"/>
<path d="M363.56 56L368.76 59" stroke="#2e8b93" stroke-width="2.25"/>
<path d="M353.66 40.2L353.66 35.14" stroke="#2e8b93" stroke-width="2.25"/>
<path d="M353.66 35.14L353.66 31" stroke="#e8141c" stroke-width="1.8"/>
<path d="M353.66 40.2L353.66 45.37" stroke="#2e8b93" stroke-width="2.25"/>
<path d="M353.66 45.37L353.66 49.6" stroke="#e8141c" stroke-width="1.8"/>
<path d="M353.66 40.2L348.21 37.01" stroke="#2e8b93" stroke-width="2.25"/>
<path d="M348.21 37.01L343.75 34.4" stroke="#e8141c" stroke-width="1.8"/>
<path d="M353.66 40.2L359.11 37.01" stroke="#2e8b93" stroke-width="2.25"/>
<path d="M359.11 37.01L363.57 34.4" stroke="#e8141c" stroke-width="1.8"/>
<path d="M353.66 40.2L348.21 43.5" stroke="#2e8b93" stroke-width="2.25"/>
<path d="M348.21 43.5L343.75 46.2" stroke="#e8141c" stroke-width="1.8"/>
<path d="M353.66 40.2L359.11 43.5" stroke="#2e8b93" stroke-width="2.25"/>
<path d="M359.11 43.5L363.57 46.2" stroke="#e8141c" stroke-width="1.8"/>
<circle cx="175.28" cy="31" r="2.1" fill="#e8141c" stroke="none" stroke-width="0"/>
<circle cx="185.18" cy="34.4" r="2.1" fill="#e8141c" stroke="none" stroke-width="0"/>
<circle cx="185.18" cy="46.2" r="2.1" fill="#e8141c" stroke="none" stroke-width="0"/>
<circle cx="175.28" cy="49.6" r="2.1" fill="#e8141c" stroke="none" stroke-width="0"/>
<circle cx="195.1" cy="31" r="2.1" fill="#e8141c" stroke="none" stroke-width="0"/>
<circle cx="205" cy="34.4" r="2.1" fill="#e8141c" stroke="none" stroke-width="0"/>
<circle cx="205" cy="46.2" r="2.1" fill="#e8141c" stroke="none" stroke-width="0"/>
<circle cx="195.1" cy="49.6" r="2.1" fill="#e8141c" stroke="none" stroke-width="0"/>
<circle cx="214.92" cy="31" r="2.1" fill="#e8141c" stroke="none" stroke-width="0"/>
<circle cx="224.82" cy="34.4" r="2.1" fill="#e8141c" stroke="none" stroke-width="0"/>
<circle cx="224.82" cy="46.2" r="2.1" fill="#e8141c" stroke="none" stroke-width="0"/>
<circle cx="214.92" cy="49.6" r="2.1" fill="#e8141c" stroke="none" stroke-width="0"/>
<circle cx="234.74" cy="31" r="2.1" fill="#e8141c" stroke="none" stroke-width="0"/>
<circle cx="244.64" cy="34.4" r="2.1" fill="#e8141c" stroke="none" stroke-width="0"/>
<circle cx="244.64" cy="46.2" r="2.1" fill="#e8141c" stroke="none" stroke-width="0"/>
<circle cx="234.74" cy="49.6" r="2.1" fill="#e8141c" stroke="none" stroke-width="0"/>
<circle cx="254.56" cy="31" r="2.1" fill="#e8141c" stroke="none" stroke-width="0"/>
<circle cx="264.46" cy="34.4" r="2.1" fill="#e8141c" stroke="none" stroke-width="0"/>
<circle cx="264.46" cy="46.2" r="2.1" fill="#e8141c" stroke="none" stroke-width="0"/>
<circle cx="254.56" cy="49.6" r="2.1" fill="#e8141c" stroke="none" stroke-width="0"/>
<circle cx="274.38" cy="31" r="2.1" fill="#e8141c" stroke="none" stroke-width="0"/>
<circle cx="284.28" cy="34.4" r="2.1" fill="#e8141c" stroke="none" stroke-width="0"/>
<circle cx="284.28" cy="46.2" r="2.1" fill="#e8141c" stroke="none" stroke-width="0"/>
<circle cx="274.38" cy="49.6" r="2.1" fill="#e8141c" stroke="none" stroke-width="0"/>
<circle cx="294.2" cy="31" r="2.1" fill="#e8141c" stroke="none" stroke-width="0"/>
<circle cx="304.1" cy="34.4" r="2.1" fill="#e8141c" stroke="none" stroke-width="0"/>
<circle cx="304.1" cy="46.2" r="2.1" fill="#e8141c" stroke="none" stroke-width="0"/>
<circle cx="294.2" cy="49.6" r="2.1" fill="#e8141c" stroke="none" stroke-width="0"/>
<circle cx="314.02" cy="31" r="2.1" fill="#e8141c" stroke="none" stroke-width="0"/>
<circle cx="323.92" cy="34.4" r="2.1" fill="#e8141c" stroke="none" stroke-width="0"/>
<circle cx="323.92" cy="46.2" r="2.1" fill="#e8141c" stroke="none" stroke-width="0"/>
<circle cx="314.02" cy="49.6" r="2.1" fill="#e8141c" stroke="none" stroke-width="0"/>
<circle cx="333.84" cy="31" r="2.1" fill="#e8141c" stroke="none" stroke-width="0"/>
<circle cx="343.74" cy="34.4" r="2.1" fill="#e8141c" stroke="none" stroke-width="0"/>
<circle cx="343.74" cy="46.2" r="2.1" fill="#e8141c" stroke="none" stroke-width="0"/>
<circle cx="333.84" cy="49.6" r="2.1" fill="#e8141c" stroke="none" stroke-width="0"/>
<circle cx="353.66" cy="31" r="2.1" fill="#e8141c" stroke="none" stroke-width="0"/>
<circle cx="363.56" cy="34.4" r="2.1" fill="#e8141c" stroke="none" stroke-width="0"/>
<circle cx="363.56" cy="46.2" r="2.1" fill="#e8141c" stroke="none" stroke-width="0"/>
<circle cx="353.66" cy="49.6" r="2.1" fill="#e8141c" stroke="none" stroke-width="0"/>
<circle cx="185.18" cy="24.4" r="1.2" fill="#1f5f66" stroke="none" stroke-width="0"/>
<circle cx="185.18" cy="56" r="1.2" fill="#1f5f66" stroke="none" stroke-width="0"/>
<circle cx="175.28" cy="40.2" r="1.2" fill="#1f5f66" stroke="none" stroke-width="0"/>
<circle cx="205" cy="24.4" r="1.2" fill="#1f5f66" stroke="none" stroke-width="0"/>
<circle cx="205" cy="56" r="1.2" fill="#1f5f66" stroke="none" stroke-width="0"/>
<circle cx="195.1" cy="40.2" r="1.2" fill="#1f5f66" stroke="none" stroke-width="0"/>
<circle cx="224.82" cy="24.4" r="1.2" fill="#1f5f66" stroke="none" stroke-width="0"/>
<circle cx="224.82" cy="56" r="1.2" fill="#1f5f66" stroke="none" stroke-width="0"/>
<circle cx="214.92" cy="40.2" r="1.2" fill="#1f5f66" stroke="none" stroke-width="0"/>
<circle cx="244.64" cy="24.4" r="1.2" fill="#5e5e5e" stroke="none" stroke-width="0"/>
<circle cx="244.64" cy="56" r="1.2" fill="#5e5e5e" stroke="none" stroke-width="0"/>
<circle cx="234.74" cy="40.2" r="1.2" fill="#5e5e5e" stroke="none" stroke-width="0"/>
<circle cx="264.46" cy="24.4" r="1.2" fill="#5e5e5e" stroke="none" stroke-width="0"/>
<circle cx="264.46" cy="56" r="1.2" fill="#5e5e5e" stroke="none" stroke-width="0"/>
<circle cx="254.56" cy="40.2" r="1.2" fill="#5e5e5e" stroke="none" stroke-width="0"/>
<circle cx="284.28" cy="24.4" r="1.2" fill="#5e5e5e" stroke="none" stroke-width="0"/>
<circle cx="284.28" cy="56" r="1.2" fill="#5e5e5e" stroke="none" stroke-width="0"/>
<circle cx="274.38" cy="40.2" r="1.2" fill="#5e5e5e" stroke="none" stroke-width="0"/>
<circle cx="304.1" cy="24.4" r="1.2" fill="#5e5e5e" stroke="none" stroke-width="0"/>
<circle cx="304.1" cy="56" r="1.2" fill="#5e5e5e" stroke="none" stroke-width="0"/>
<circle cx="294.2" cy="40.2" r="1.2" fill="#5e5e5e" stroke="none" stroke-width="0"/>
<circle cx="323.92" cy="24.4" r="1.2" fill="#1f5f66" stroke="none" stroke-width="0"/>
<circle cx="323.92" cy="56" r="1.2" fill="#1f5f66" stroke="none" stroke-width="0"/>
<circle cx="314.02" cy="40.2" r="1.2" fill="#1f5f66" stroke="none" stroke-width="0"/>
<circle cx="343.74" cy="24.4" r="1.2" fill="#1f5f66" stroke="none" stroke-width="0"/>
<circle cx="343.74" cy="56" r="1.2" fill="#1f5f66" stroke="none" stroke-width="0"/>
<circle cx="333.84" cy="40.2" r="1.2" fill="#1f5f66" stroke="none" stroke-width="0"/>
<circle cx="363.56" cy="24.4" r="1.2" fill="#1f5f66" stroke="none" stroke-width="0"/>
<circle cx="363.56" cy="56" r="1.2" fill="#1f5f66" stroke="none" stroke-width="0"/>
<circle cx="353.66" cy="40.2" r="1.2" fill="#1f5f66" stroke="none" stroke-width="0"/>
</g>
<text x="235" y="8" font-size="7" text-anchor="middle" font-weight="normal" fill="#444" style="stroke-width:0.05px;stroke:#444">1</text>
<path d="M235 10V22" stroke="#bbb" stroke-width="0.6"/>
<text x="244.9" y="8" font-size="7" text-anchor="middle" font-weight="normal" fill="#444" style="stroke-width:0.05px;stroke:#444">2</text>
<path d="M244.9 10V22" stroke="#bbb" stroke-width="0.6"/>
<text x="254.8" y="8" font-size="7" text-anchor="middle" font-weight="normal" fill="#444" style="stroke-width:0.05px;stroke:#444">3</text>
<path d="M254.8 10V22" stroke="#bbb" stroke-width="0.6"/>
<text x="264.7" y="8" font-size="7" text-anchor="middle" font-weight="normal" fill="#444" style="stroke-width:0.05px;stroke:#444">4</text>
<path d="M264.7 10V22" stroke="#bbb" stroke-width="0.6"/>
<text x="274.6" y="8" font-size="7" text-anchor="middle" font-weight="normal" fill="#444" style="stroke-width:0.05px;stroke:#444">5</text>
<path d="M274.6 10V22" stroke="#bbb" stroke-width="0.6"/>
<text x="284.5" y="8" font-size="7" text-anchor="middle" font-weight="normal" fill="#444" style="stroke-width:0.05px;stroke:#444">6</text>
<path d="M284.5 10V22" stroke="#bbb" stroke-width="0.6"/>
<text x="294.4" y="8" font-size="7" text-anchor="middle" font-weight="normal" fill="#444" style="stroke-width:0.05px;stroke:#444">7</text>
<path d="M294.4 10V22" stroke="#bbb" stroke-width="0.6"/>
<text x="304.3" y="8" font-size="7" text-anchor="middle" font-weight="normal" fill="#444" style="stroke-width:0.05px;stroke:#444">8</text>
<path d="M304.3 10V22" stroke="#bbb" stroke-width="0.6"/>
<g clip-path="url(#cb)">
<path d="M276.3 74.5V140" stroke="#333" stroke-width="0.75" stroke-dasharray="1.8 1.5"/>
<path d="M205.7 131 L207 124 L208.3 119 L211.4 117.6 L213.7 127.9 L215 130.7 L217.1 129 L219.3 133.6 L220.6 132.4 L223.6 135.7 L227.9 137.1 L232 138.6 L237.9 139.3 L245 139.6 L309 139.6 L311.2 139 L311.9 129.8 L313.3 114.5 L315.3 106 L316 110.3 L317.4 100.6 L318.5 83 L319.3 108 L320.4 96 L320.9 125.6 L322.3 132.6 L323.7 128.4 L325 134 L327 128 L329 131 L331 120 L333 126 L335 112 L337 122 L339 108 L341 118 L343 104 L345 112 L347.5 106" fill="none" stroke="#333" stroke-width="0.85"/>
<path d="M205.5 135 L207 128 L209 134 L211 125 L213 131 L215 127 L217 133 L219 126 L221 132 L223 128 L225 134 L227.2 74 L228.6 132 L231 135 L233 131 L236.4 125.7 L238 135 L241 137 L244 136 L247 132 L250 130.7 L251 136 L252.5 96.8 L254 138 L258 139 L300 139.6 L330 139.6 L333.4 139.5 L336 125 L338 130 L340.4 100.6 L342 125 L344 115 L346 108 L347.5 118" fill="none" stroke="#2aaa3a" stroke-width="0.85" stroke-dasharray="2 0.8 0.6 0.8"/>
<path d="M205.5 132 L207 122 L209 130 L211 118 L213 126 L215 120 L216.5 130 L218.3 99.4 L219.5 128 L221 124 L223 132 L225 127 L227 131 L229.5 74 L230.7 130 L233 134 L235 131 L238 136 L241 133 L244.3 129.3 L246 137 L250 139 L260 139.5 L300 139.6 L322 139.6 L325.8 141 L329.3 100 L330.6 111.7 L331.4 74 L333.4 136.7 L336.9 117.3 L339.7 113 L342.5 103.3 L344 128 L346 110 L347.5 120" fill="none" stroke="#f02a2a" stroke-width="0.85" stroke-dasharray="2 0.8 0.6 0.8"/>
<path d="M205.5 125 L207 118 L208.5 128 L209.7 74 L211 125 L212.5 115 L214 130 L216 122 L218 132 L220 124 L222 130 L223.4 85.7 L224.2 128 L225.1 74 L226.5 128 L228 132 L230 126 L232 134 L234 130 L236 135 L238.6 122 L240 134 L243 136 L247 138 L252 139 L260 139.5 L300 139.6 L318 139.5 L320 136 L321.6 129 L325 103.3 L327.2 129.8 L330.6 85 L332.7 135.3 L336.2 100 L337.8 84.2 L339 132.6 L341 120 L343.9 100.6 L345 125 L346 89 L347.5 120" fill="none" stroke="#2a3af0" stroke-width="0.85" stroke-dasharray="1.4 0.8"/>
</g>
<rect x="205" y="74.5" width="142.3" height="65.5" fill="none" stroke="#444" stroke-width="0.9"/>
<path d="M222.28 140v-1.5M222.28 74.5v1.5" stroke="#444" stroke-width="0.7"/>
<path d="M240.05 140v-1.5M240.05 74.5v1.5" stroke="#444" stroke-width="0.7"/>
<path d="M257.83 140v-1.5M257.83 74.5v1.5" stroke="#444" stroke-width="0.7"/>
<path d="M275.6 140v-1.5M275.6 74.5v1.5" stroke="#444" stroke-width="0.7"/>
<path d="M293.38 140v-1.5M293.38 74.5v1.5" stroke="#444" stroke-width="0.7"/>
<path d="M311.15 140v-1.5M311.15 74.5v1.5" stroke="#444" stroke-width="0.7"/>
<path d="M328.93 140v-1.5M328.93 74.5v1.5" stroke="#444" stroke-width="0.7"/>
<path d="M205 82.69h1.5M347.3 82.69h-1.5" stroke="#444" stroke-width="0.7"/>
<path d="M205 90.88h1.5M347.3 90.88h-1.5" stroke="#444" stroke-width="0.7"/>
<path d="M205 99.06h1.5M347.3 99.06h-1.5" stroke="#444" stroke-width="0.7"/>
<path d="M205 107.25h1.5M347.3 107.25h-1.5" stroke="#444" stroke-width="0.7"/>
<path d="M205 115.44h1.5M347.3 115.44h-1.5" stroke="#444" stroke-width="0.7"/>
<path d="M205 123.62h1.5M347.3 123.62h-1.5" stroke="#444" stroke-width="0.7"/>
<path d="M205 131.81h1.5M347.3 131.81h-1.5" stroke="#444" stroke-width="0.7"/>
<path d="M322 140V146.4" stroke="#2a3af0" stroke-width="0.9" stroke-dasharray="1.5 1"/>
<path d="M325.7 140V146.4" stroke="#f02a2a" stroke-width="0.9" stroke-dasharray="1.5 1"/>
<path d="M333.1 140V146.4" stroke="#2aaa3a" stroke-width="0.9" stroke-dasharray="1.5 1"/>
<text x="204.5" y="146.3" font-size="5.9" text-anchor="middle" font-weight="normal" fill="#222" style="stroke-width:0.12px">-2</text>
<text x="222.28" y="146.3" font-size="5.9" text-anchor="middle" font-weight="normal" fill="#222" style="stroke-width:0.12px">-1.5</text>
<text x="240.05" y="146.3" font-size="5.9" text-anchor="middle" font-weight="normal" fill="#222" style="stroke-width:0.12px">-1</text>
<text x="257.83" y="146.3" font-size="5.9" text-anchor="middle" font-weight="normal" fill="#222" style="stroke-width:0.12px">-0.5</text>
<text x="275.6" y="146.3" font-size="5.9" text-anchor="middle" font-weight="normal" fill="#222" style="stroke-width:0.12px">0</text>
<text x="293.38" y="146.3" font-size="5.9" text-anchor="middle" font-weight="normal" fill="#222" style="stroke-width:0.12px">0.5</text>
<text x="311.15" y="146.3" font-size="5.9" text-anchor="middle" font-weight="normal" fill="#222" style="stroke-width:0.12px">1</text>
<text x="328.93" y="146.3" font-size="5.9" text-anchor="middle" font-weight="normal" fill="#222" style="stroke-width:0.12px">1.5</text>
<text x="346.7" y="146.3" font-size="5.9" text-anchor="middle" font-weight="normal" fill="#222" style="stroke-width:0.12px">2</text>
<text x="277.3" y="152.3" font-size="5.8" text-anchor="middle" font-weight="normal" fill="#222" textLength="30" lengthAdjust="spacingAndGlyphs" style="stroke-width:0.12px">Energy (eV)</text>
<text transform="translate(201 107.3) rotate(-90)" font-size="5.3" text-anchor="middle" fill="#222" textLength="60" lengthAdjust="spacingAndGlyphs" style="stroke-width:0.1px">PDOS (states/eV/unit cell)</text>
<text x="288.1" y="84.5" font-size="5.3" text-anchor="start" font-weight="normal" fill="#222" textLength="12.4" lengthAdjust="spacingAndGlyphs" style="stroke-width:0.12px">Clean</text>
<path d="M305 82.6H313.8" stroke="#666" stroke-width="1.1"/>
<text x="288.1" y="89.2" font-size="5.3" text-anchor="start" font-weight="normal" fill="#222" textLength="10.3" lengthAdjust="spacingAndGlyphs" style="stroke-width:0.12px">Al(1)</text>
<path d="M305 87.3H313.8" stroke="#f02a2a" stroke-width="1.1" stroke-dasharray="2 1 0.6 1"/>
<text x="288.1" y="94.1" font-size="5.3" text-anchor="start" font-weight="normal" fill="#222" textLength="10.3" lengthAdjust="spacingAndGlyphs" style="stroke-width:0.12px">Al(4)</text>
<path d="M305 92.2H313.8" stroke="#2a3af0" stroke-width="1.1" stroke-dasharray="1.6 1"/>
<text x="288.1" y="98.8" font-size="5.3" text-anchor="start" font-weight="normal" fill="#222" textLength="14.9" lengthAdjust="spacingAndGlyphs" style="stroke-width:0.12px">Al(1,2)</text>
<path d="M305 96.9H313.8" stroke="#2aaa3a" stroke-width="1.1" stroke-dasharray="2 1 0.6 1"/>
<text x="181" y="157.5" font-size="10.5" text-anchor="start" font-weight="bold" fill="#1a1a1a" >(b)</text>
</svg></body></html>
